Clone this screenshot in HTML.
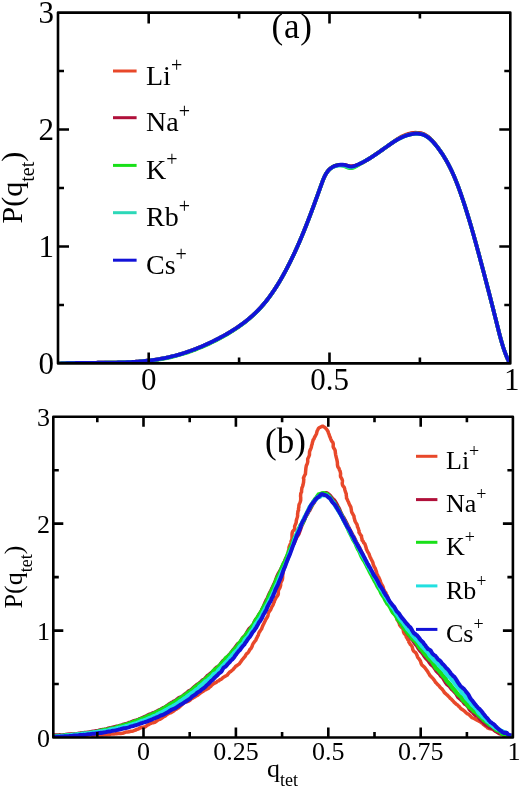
<!DOCTYPE html>
<html><head><meta charset="utf-8"><style>
html,body{margin:0;padding:0;background:#fff;}
body{width:520px;height:790px;overflow:hidden;}
svg{display:block;}

</style></head><body>
<div id="w"><svg width="520" height="790" viewBox="0 0 520 790">
<defs><clipPath id="ca"><rect x="58.0" y="12.6" width="452.3" height="350.8"/></clipPath>
<clipPath id="cb"><rect x="53.3" y="416.7" width="459.6" height="320.8"/></clipPath></defs>
<g fill="none" stroke-linecap="butt" stroke-linejoin="round">
<g clip-path="url(#ca)">
<!-- panel A curves -->
<path d="M58.08,363.72 L59.87,363.61 L61.65,363.51 L63.44,363.42 L65.24,363.34 L67.04,363.27 L68.83,363.20 L70.64,363.14 L72.44,363.09 L74.25,363.04 L76.06,363.00 L77.87,362.96 L79.69,362.93 L81.51,362.90 L83.33,362.88 L85.15,362.86 L86.97,362.84 L88.79,362.83 L90.62,362.81 L92.44,362.80 L94.27,362.79 L96.10,362.78 L97.93,362.77 L99.76,362.76 L101.59,362.74 L103.42,362.73 L105.26,362.72 L107.09,362.70 L108.92,362.68 L110.75,362.65 L112.58,362.62 L114.42,362.59 L116.25,362.55 L118.08,362.51 L119.91,362.46 L121.74,362.41 L123.57,362.35 L125.40,362.28 L127.22,362.20 L129.05,362.12 L130.87,362.03 L132.69,361.92 L134.51,361.81 L136.33,361.69 L138.15,361.56 L139.97,361.42 L141.78,361.26 L143.59,361.09 L145.40,360.92 L147.20,360.72 L149.01,360.52 L150.81,360.30 L152.60,360.07 L154.40,359.82 L156.19,359.55 L157.98,359.27 L159.76,358.98 L161.54,358.67 L163.32,358.34 L165.09,357.99 L166.86,357.63 L168.62,357.24 L170.38,356.84 L172.14,356.42 L173.89,355.98 L175.64,355.52 L177.38,355.04 L179.12,354.55 L180.86,354.04 L182.59,353.51 L184.31,352.96 L186.03,352.40 L187.75,351.82 L189.46,351.23 L191.17,350.61 L192.87,349.99 L194.57,349.35 L196.26,348.69 L197.95,348.02 L199.63,347.33 L201.31,346.63 L202.98,345.91 L204.65,345.18 L206.31,344.44 L207.97,343.68 L209.62,342.92 L211.27,342.13 L212.91,341.34 L214.55,340.53 L216.18,339.71 L217.81,338.88 L219.43,338.04 L221.04,337.18 L222.65,336.31 L224.24,335.43 L225.83,334.53 L227.42,333.62 L228.99,332.69 L230.55,331.75 L232.10,330.80 L233.64,329.83 L235.17,328.84 L236.69,327.84 L238.19,326.82 L239.68,325.79 L241.16,324.73 L242.63,323.67 L244.08,322.58 L245.51,321.48 L246.93,320.35 L248.34,319.21 L249.72,318.05 L251.09,316.88 L252.45,315.68 L253.78,314.46 L255.10,313.23 L256.40,311.97 L257.67,310.69 L258.93,309.39 L260.17,308.08 L261.39,306.74 L262.59,305.38 L263.77,304.01 L264.93,302.61 L266.07,301.20 L267.20,299.78 L268.31,298.34 L269.40,296.88 L270.48,295.41 L271.54,293.92 L272.58,292.43 L273.61,290.92 L274.62,289.39 L275.62,287.86 L276.60,286.32 L277.57,284.77 L278.53,283.21 L279.47,281.64 L280.40,280.06 L281.32,278.48 L282.23,276.89 L283.12,275.29 L284.01,273.69 L284.88,272.09 L285.74,270.48 L286.60,268.87 L287.44,267.26 L288.27,265.64 L289.09,264.03 L289.91,262.41 L290.71,260.78 L291.51,259.16 L292.30,257.53 L293.08,255.90 L293.85,254.27 L294.61,252.63 L295.37,250.99 L296.12,249.35 L296.86,247.71 L297.59,246.06 L298.32,244.41 L299.04,242.76 L299.76,241.11 L300.46,239.45 L301.17,237.79 L301.86,236.13 L302.56,234.46 L303.24,232.79 L303.92,231.12 L304.60,229.45 L305.27,227.77 L305.94,226.09 L306.61,224.41 L307.27,222.72 L307.92,221.03 L308.57,219.34 L309.22,217.64 L309.87,215.95 L310.52,214.25 L311.16,212.54 L311.80,210.83 L312.43,209.12 L313.07,207.41 L313.70,205.70 L314.33,203.98 L314.96,202.25 L315.59,200.53 L316.22,198.80 L316.85,197.07 L317.48,195.33 L318.11,193.59 L318.73,191.85 L319.36,190.11 L319.99,188.36 L320.62,186.61 L321.25,184.85 L321.88,183.10 L322.53,181.35 L323.20,179.63 L323.91,177.93 L324.66,176.29 L325.48,174.70 L326.37,173.19 L327.34,171.77 L328.41,170.44 L329.59,169.22 L330.90,168.12 L332.33,167.16 L333.91,166.35 L335.62,165.70 L337.44,165.22 L339.31,164.91 L341.22,164.78 L343.11,164.84 L344.96,165.09 L346.73,165.53 L348.44,166.02 L350.12,166.39 L351.81,166.47 L353.52,166.23 L355.22,165.74 L356.92,165.10 L358.60,164.39 L360.26,163.63 L361.89,162.82 L363.50,161.97 L365.10,161.08 L366.68,160.16 L368.24,159.21 L369.80,158.23 L371.34,157.24 L372.87,156.24 L374.39,155.22 L375.91,154.20 L377.42,153.17 L378.93,152.15 L380.43,151.12 L381.92,150.09 L383.41,149.05 L384.90,148.01 L386.38,146.96 L387.85,145.91 L389.31,144.86 L390.77,143.80 L392.23,142.73 L393.68,141.67 L395.14,140.62 L396.62,139.60 L398.12,138.61 L399.65,137.66 L401.22,136.77 L402.84,135.94 L404.51,135.19 L406.24,134.52 L408.03,133.94 L409.87,133.47 L411.74,133.11 L413.62,132.87 L415.50,132.77 L417.36,132.80 L419.18,132.99 L420.95,133.34 L422.64,133.85 L424.25,134.54 L425.79,135.37 L427.27,136.33 L428.68,137.41 L430.03,138.59 L431.33,139.85 L432.59,141.18 L433.81,142.56 L434.99,143.98 L436.15,145.41 L437.27,146.86 L438.37,148.32 L439.44,149.80 L440.49,151.30 L441.51,152.81 L442.51,154.33 L443.48,155.86 L444.43,157.41 L445.36,158.97 L446.27,160.54 L447.15,162.13 L448.02,163.72 L448.86,165.33 L449.69,166.94 L450.49,168.57 L451.28,170.21 L452.05,171.85 L452.81,173.50 L453.55,175.16 L454.27,176.83 L454.98,178.51 L455.67,180.19 L456.35,181.88 L457.02,183.57 L457.68,185.27 L458.33,186.97 L458.96,188.68 L459.58,190.40 L460.20,192.11 L460.81,193.83 L461.40,195.56 L461.99,197.28 L462.58,199.01 L463.15,200.74 L463.73,202.47 L464.29,204.20 L464.85,205.93 L465.41,207.67 L465.96,209.40 L466.51,211.14 L467.05,212.87 L467.59,214.61 L468.12,216.35 L468.65,218.09 L469.17,219.83 L469.69,221.57 L470.21,223.31 L470.72,225.05 L471.23,226.80 L471.74,228.54 L472.24,230.29 L472.74,232.03 L473.23,233.78 L473.73,235.52 L474.22,237.27 L474.70,239.02 L475.19,240.77 L475.67,242.52 L476.15,244.27 L476.63,246.02 L477.11,247.77 L477.59,249.52 L478.06,251.28 L478.53,253.03 L479.00,254.78 L479.47,256.54 L479.94,258.29 L480.41,260.05 L480.87,261.80 L481.34,263.56 L481.80,265.31 L482.27,267.07 L482.73,268.83 L483.20,270.58 L483.66,272.34 L484.12,274.10 L484.59,275.86 L485.05,277.61 L485.51,279.37 L485.97,281.13 L486.43,282.89 L486.89,284.65 L487.35,286.41 L487.81,288.17 L488.26,289.93 L488.72,291.69 L489.18,293.46 L489.63,295.22 L490.09,296.98 L490.54,298.74 L490.99,300.50 L491.44,302.27 L491.90,304.03 L492.35,305.79 L492.80,307.56 L493.24,309.32 L493.69,311.09 L494.14,312.85 L494.58,314.62 L495.03,316.38 L495.47,318.15 L495.91,319.91 L496.36,321.68 L496.80,323.45 L497.24,325.21 L497.67,326.98 L498.11,328.75 L498.55,330.51 L498.99,332.28 L499.44,334.04 L499.90,335.80 L500.36,337.56 L500.84,339.31 L501.33,341.06 L501.83,342.81 L502.35,344.54 L502.88,346.28 L503.44,348.00 L504.02,349.72 L504.62,351.42 L505.25,353.12 L505.90,354.81 L506.58,356.49 L507.30,358.16 L508.04,359.81 L508.82,361.46 L509.64,363.09" stroke="#e8482a" stroke-width="3.8"/>
<path d="M58.08,363.72 L59.87,363.61 L61.65,363.51 L63.44,363.42 L65.24,363.34 L67.03,363.27 L68.83,363.20 L70.63,363.14 L72.44,363.09 L74.25,363.04 L76.06,363.00 L77.87,362.96 L79.68,362.93 L81.50,362.90 L83.32,362.88 L85.14,362.86 L86.96,362.84 L88.78,362.83 L90.61,362.81 L92.44,362.80 L94.26,362.79 L96.09,362.78 L97.92,362.77 L99.75,362.76 L101.58,362.74 L103.41,362.73 L105.24,362.72 L107.08,362.70 L108.91,362.68 L110.74,362.65 L112.57,362.62 L114.40,362.59 L116.23,362.55 L118.06,362.51 L119.89,362.46 L121.72,362.41 L123.55,362.35 L125.38,362.28 L127.21,362.20 L129.03,362.12 L130.85,362.03 L132.68,361.93 L134.50,361.81 L136.32,361.69 L138.13,361.56 L139.95,361.42 L141.76,361.26 L143.57,361.10 L145.38,360.92 L147.18,360.73 L148.98,360.52 L150.78,360.30 L152.58,360.07 L154.37,359.82 L156.16,359.56 L157.95,359.28 L159.74,358.98 L161.52,358.67 L163.29,358.34 L165.06,358.00 L166.83,357.63 L168.60,357.25 L170.36,356.84 L172.11,356.42 L173.87,355.98 L175.61,355.53 L177.36,355.05 L179.09,354.56 L180.83,354.05 L182.56,353.52 L184.28,352.97 L186.00,352.41 L187.72,351.83 L189.43,351.24 L191.14,350.63 L192.84,350.00 L194.54,349.36 L196.23,348.70 L197.92,348.03 L199.60,347.34 L201.28,346.64 L202.95,345.93 L204.62,345.20 L206.28,344.46 L207.94,343.70 L209.59,342.93 L211.24,342.15 L212.88,341.36 L214.52,340.55 L216.15,339.73 L217.77,338.90 L219.39,338.06 L221.01,337.20 L222.61,336.33 L224.21,335.45 L225.80,334.55 L227.38,333.64 L228.95,332.72 L230.51,331.78 L232.06,330.82 L233.60,329.85 L235.13,328.87 L236.65,327.86 L238.15,326.85 L239.65,325.81 L241.12,324.76 L242.59,323.69 L244.04,322.61 L245.48,321.50 L246.90,320.38 L248.30,319.24 L249.69,318.09 L251.06,316.91 L252.41,315.71 L253.75,314.50 L255.06,313.26 L256.36,312.00 L257.64,310.73 L258.90,309.43 L260.13,308.11 L261.35,306.78 L262.55,305.42 L263.73,304.05 L264.90,302.66 L266.04,301.25 L267.17,299.82 L268.28,298.38 L269.37,296.92 L270.44,295.45 L271.50,293.97 L272.55,292.47 L273.58,290.96 L274.59,289.44 L275.59,287.91 L276.57,286.37 L277.54,284.82 L278.50,283.26 L279.44,281.69 L280.37,280.11 L281.29,278.53 L282.20,276.94 L283.09,275.35 L283.98,273.75 L284.85,272.14 L285.71,270.54 L286.57,268.93 L287.41,267.32 L288.24,265.70 L289.06,264.08 L289.88,262.46 L290.68,260.84 L291.48,259.22 L292.27,257.59 L293.05,255.96 L293.82,254.33 L294.58,252.69 L295.34,251.05 L296.09,249.41 L296.83,247.77 L297.56,246.12 L298.29,244.48 L299.01,242.82 L299.73,241.17 L300.44,239.51 L301.14,237.85 L301.84,236.19 L302.53,234.53 L303.22,232.86 L303.90,231.19 L304.57,229.51 L305.25,227.84 L305.91,226.16 L306.58,224.47 L307.24,222.79 L307.89,221.10 L308.55,219.41 L309.20,217.72 L309.84,216.02 L310.49,214.32 L311.13,212.61 L311.77,210.91 L312.40,209.20 L313.04,207.49 L313.67,205.77 L314.30,204.05 L314.94,202.33 L315.56,200.61 L316.19,198.88 L316.82,197.15 L317.45,195.41 L318.08,193.67 L318.70,191.93 L319.33,190.19 L319.96,188.44 L320.59,186.69 L321.22,184.94 L321.85,183.18 L322.50,181.43 L323.17,179.71 L323.87,178.01 L324.63,176.37 L325.44,174.78 L326.32,173.26 L327.29,171.83 L328.36,170.50 L329.53,169.27 L330.83,168.17 L332.26,167.21 L333.83,166.39 L335.53,165.73 L337.34,165.24 L339.22,164.92 L341.12,164.78 L343.01,164.83 L344.86,165.08 L346.64,165.51 L348.35,166.00 L350.03,166.38 L351.72,166.48 L353.43,166.25 L355.14,165.77 L356.84,165.13 L358.51,164.42 L360.17,163.66 L361.80,162.86 L363.42,162.01 L365.01,161.13 L366.59,160.21 L368.16,159.27 L369.71,158.30 L371.25,157.31 L372.78,156.31 L374.31,155.29 L375.82,154.27 L377.34,153.24 L378.84,152.20 L380.35,151.16 L381.85,150.12 L383.34,149.08 L384.83,148.04 L386.32,147.00 L387.80,145.97 L389.27,144.93 L390.74,143.90 L392.21,142.88 L393.68,141.87 L395.16,140.88 L396.66,139.91 L398.18,138.97 L399.73,138.08 L401.32,137.22 L402.95,136.42 L404.64,135.68 L406.38,135.00 L408.19,134.40 L410.04,133.88 L411.91,133.46 L413.80,133.16 L415.68,132.99 L417.54,132.96 L419.36,133.08 L421.12,133.37 L422.80,133.85 L424.40,134.50 L425.94,135.32 L427.40,136.27 L428.80,137.35 L430.15,138.53 L431.44,139.80 L432.69,141.14 L433.90,142.53 L435.08,143.96 L436.23,145.40 L437.35,146.86 L438.45,148.33 L439.51,149.81 L440.56,151.32 L441.57,152.83 L442.57,154.36 L443.54,155.90 L444.48,157.45 L445.41,159.01 L446.31,160.59 L447.19,162.18 L448.05,163.77 L448.90,165.38 L449.72,167.00 L450.52,168.62 L451.31,170.26 L452.08,171.90 L452.83,173.56 L453.57,175.22 L454.29,176.89 L455.00,178.56 L455.69,180.24 L456.37,181.93 L457.04,183.62 L457.70,185.32 L458.34,187.02 L458.97,188.73 L459.60,190.44 L460.21,192.16 L460.82,193.88 L461.41,195.60 L462.00,197.32 L462.59,199.05 L463.16,200.78 L463.74,202.51 L464.30,204.24 L464.86,205.97 L465.42,207.70 L465.97,209.43 L466.52,211.17 L467.06,212.90 L467.59,214.64 L468.13,216.38 L468.65,218.12 L469.18,219.86 L469.70,221.60 L470.22,223.34 L470.73,225.08 L471.24,226.82 L471.74,228.57 L472.25,230.31 L472.74,232.06 L473.24,233.80 L473.73,235.55 L474.22,237.30 L474.71,239.05 L475.20,240.80 L475.68,242.55 L476.16,244.30 L476.64,246.05 L477.12,247.80 L477.59,249.55 L478.07,251.30 L478.54,253.06 L479.01,254.81 L479.48,256.57 L479.95,258.32 L480.41,260.07 L480.88,261.83 L481.35,263.58 L481.81,265.34 L482.28,267.10 L482.74,268.85 L483.20,270.61 L483.67,272.37 L484.13,274.12 L484.59,275.88 L485.05,277.64 L485.52,279.40 L485.98,281.16 L486.44,282.91 L486.90,284.67 L487.35,286.43 L487.81,288.19 L488.27,289.95 L488.73,291.71 L489.18,293.47 L489.64,295.23 L490.09,297.00 L490.54,298.76 L491.00,300.52 L491.45,302.28 L491.90,304.04 L492.35,305.81 L492.80,307.57 L493.25,309.33 L493.69,311.10 L494.14,312.86 L494.59,314.63 L495.03,316.39 L495.47,318.16 L495.92,319.92 L496.36,321.69 L496.80,323.45 L497.24,325.22 L497.67,326.99 L498.11,328.75 L498.55,330.52 L499.00,332.29 L499.44,334.05 L499.90,335.81 L500.36,337.57 L500.84,339.32 L501.33,341.07 L501.83,342.81 L502.35,344.55 L502.88,346.28 L503.44,348.00 L504.02,349.72 L504.62,351.43 L505.25,353.13 L505.90,354.82 L506.58,356.49 L507.30,358.16 L508.04,359.82 L508.83,361.46 L509.64,363.09" stroke="#b0103a" stroke-width="3.8"/>
<path d="M58.09,363.74 L59.87,363.62 L61.66,363.52 L63.45,363.42 L65.24,363.34 L67.04,363.26 L68.84,363.19 L70.64,363.12 L72.45,363.07 L74.26,363.02 L76.07,362.98 L77.88,362.94 L79.70,362.91 L81.52,362.89 L83.34,362.87 L85.16,362.85 L86.98,362.83 L88.81,362.82 L90.63,362.81 L92.46,362.81 L94.29,362.80 L96.12,362.80 L97.95,362.79 L99.78,362.79 L101.62,362.78 L103.45,362.78 L105.28,362.77 L107.12,362.76 L108.95,362.75 L110.79,362.73 L112.62,362.71 L114.46,362.69 L116.29,362.66 L118.12,362.63 L119.95,362.59 L121.79,362.55 L123.62,362.50 L125.45,362.44 L127.28,362.37 L129.10,362.30 L130.93,362.22 L132.75,362.13 L134.58,362.03 L136.40,361.92 L138.22,361.80 L140.04,361.66 L141.85,361.52 L143.66,361.37 L145.47,361.20 L147.28,361.02 L149.09,360.82 L150.89,360.62 L152.69,360.39 L154.49,360.16 L156.28,359.90 L158.07,359.64 L159.86,359.35 L161.64,359.05 L163.42,358.73 L165.19,358.39 L166.96,358.04 L168.73,357.66 L170.50,357.27 L172.25,356.86 L174.01,356.43 L175.76,355.98 L177.50,355.51 L179.25,355.02 L180.98,354.52 L182.71,354.00 L184.44,353.46 L186.17,352.90 L187.88,352.33 L189.60,351.74 L191.31,351.13 L193.01,350.51 L194.71,349.87 L196.40,349.21 L198.09,348.54 L199.77,347.86 L201.45,347.16 L203.13,346.44 L204.79,345.71 L206.46,344.97 L208.12,344.21 L209.77,343.44 L211.41,342.65 L213.06,341.85 L214.69,341.04 L216.32,340.22 L217.95,339.38 L219.56,338.53 L221.17,337.66 L222.78,336.78 L224.37,335.89 L225.96,334.98 L227.54,334.06 L229.10,333.12 L230.66,332.17 L232.21,331.20 L233.74,330.22 L235.27,329.22 L236.78,328.21 L238.28,327.18 L239.77,326.13 L241.24,325.06 L242.70,323.98 L244.15,322.88 L245.58,321.77 L246.99,320.63 L248.39,319.48 L249.77,318.31 L251.14,317.12 L252.48,315.92 L253.81,314.69 L255.13,313.45 L256.42,312.18 L257.69,310.90 L258.94,309.59 L260.18,308.27 L261.39,306.93 L262.59,305.57 L263.76,304.19 L264.92,302.79 L266.06,301.38 L267.18,299.95 L268.29,298.51 L269.37,297.05 L270.45,295.58 L271.50,294.10 L272.54,292.60 L273.57,291.09 L274.58,289.57 L275.57,288.04 L276.56,286.50 L277.52,284.95 L278.48,283.39 L279.42,281.82 L280.35,280.25 L281.27,278.66 L282.17,277.08 L283.07,275.48 L283.95,273.88 L284.82,272.28 L285.68,270.67 L286.54,269.06 L287.38,267.44 L288.21,265.83 L289.04,264.21 L289.85,262.58 L290.66,260.96 L291.46,259.33 L292.25,257.70 L293.03,256.06 L293.80,254.42 L294.57,252.78 L295.33,251.14 L296.08,249.49 L296.82,247.84 L297.56,246.19 L298.29,244.54 L299.01,242.88 L299.73,241.22 L300.44,239.56 L301.15,237.89 L301.85,236.23 L302.54,234.56 L303.23,232.88 L303.91,231.21 L304.59,229.53 L305.26,227.85 L305.93,226.16 L306.60,224.48 L307.26,222.79 L307.92,221.10 L308.57,219.40 L309.22,217.71 L309.87,216.01 L310.51,214.31 L311.15,212.60 L311.79,210.90 L312.43,209.19 L313.06,207.48 L313.69,205.76 L314.32,204.05 L314.95,202.33 L315.57,200.61 L316.20,198.89 L316.82,197.16 L317.44,195.43 L318.07,193.70 L318.69,191.97 L319.31,190.24 L319.93,188.50 L320.55,186.76 L321.17,185.02 L321.80,183.28 L322.43,181.54 L323.09,179.83 L323.79,178.14 L324.54,176.50 L325.36,174.91 L326.25,173.39 L327.23,171.95 L328.31,170.59 L329.51,169.33 L330.84,168.18 L332.31,167.15 L333.94,166.26 L335.70,165.54 L337.54,165.05 L339.40,164.87 L341.21,165.06 L342.97,165.56 L344.69,166.25 L346.38,167.00 L348.04,167.67 L349.69,168.11 L351.33,168.18 L352.96,167.82 L354.58,167.13 L356.19,166.26 L357.79,165.32 L359.38,164.38 L360.97,163.46 L362.55,162.53 L364.12,161.61 L365.68,160.69 L367.23,159.76 L368.78,158.83 L370.32,157.88 L371.86,156.92 L373.39,155.95 L374.91,154.96 L376.43,153.94 L377.94,152.91 L379.45,151.86 L380.95,150.80 L382.45,149.73 L383.94,148.66 L385.44,147.59 L386.92,146.53 L388.41,145.47 L389.89,144.44 L391.37,143.42 L392.85,142.42 L394.34,141.45 L395.84,140.52 L397.36,139.62 L398.91,138.76 L400.50,137.95 L402.13,137.18 L403.81,136.47 L405.54,135.82 L407.34,135.23 L409.19,134.72 L411.08,134.29 L412.99,133.97 L414.89,133.76 L416.78,133.68 L418.64,133.75 L420.44,133.98 L422.18,134.38 L423.83,134.95 L425.41,135.70 L426.92,136.58 L428.36,137.60 L429.75,138.72 L431.08,139.94 L432.36,141.23 L433.60,142.58 L434.81,143.96 L435.98,145.37 L437.12,146.80 L438.24,148.25 L439.32,149.71 L440.38,151.19 L441.42,152.68 L442.43,154.19 L443.41,155.72 L444.37,157.26 L445.31,158.81 L446.22,160.38 L447.11,161.96 L447.98,163.55 L448.83,165.15 L449.66,166.77 L450.47,168.39 L451.26,170.03 L452.03,171.68 L452.79,173.33 L453.53,174.99 L454.25,176.67 L454.96,178.35 L455.65,180.03 L456.33,181.73 L457.00,183.43 L457.66,185.13 L458.30,186.84 L458.93,188.56 L459.55,190.28 L460.17,192.00 L460.77,193.73 L461.37,195.46 L461.96,197.19 L462.54,198.92 L463.11,200.65 L463.68,202.39 L464.25,204.12 L464.81,205.86 L465.37,207.60 L465.92,209.33 L466.46,211.07 L467.00,212.81 L467.54,214.55 L468.07,216.29 L468.60,218.03 L469.13,219.77 L469.65,221.51 L470.17,223.25 L470.68,224.99 L471.19,226.74 L471.70,228.48 L472.20,230.22 L472.70,231.97 L473.20,233.71 L473.69,235.46 L474.19,237.21 L474.68,238.95 L475.16,240.70 L475.65,242.45 L476.13,244.20 L476.61,245.95 L477.09,247.70 L477.57,249.45 L478.04,251.20 L478.52,252.95 L478.99,254.70 L479.46,256.46 L479.93,258.21 L480.40,259.97 L480.86,261.72 L481.33,263.48 L481.80,265.23 L482.26,266.99 L482.73,268.75 L483.19,270.51 L483.66,272.26 L484.12,274.02 L484.58,275.78 L485.04,277.54 L485.50,279.30 L485.96,281.07 L486.42,282.83 L486.88,284.59 L487.34,286.35 L487.80,288.11 L488.26,289.88 L488.71,291.64 L489.17,293.41 L489.62,295.17 L490.08,296.94 L490.53,298.70 L490.98,300.47 L491.43,302.23 L491.88,304.00 L492.33,305.76 L492.78,307.53 L493.23,309.30 L493.68,311.06 L494.12,312.83 L494.57,314.60 L495.01,316.36 L495.46,318.13 L495.90,319.90 L496.34,321.67 L496.78,323.43 L497.22,325.20 L497.66,326.97 L498.10,328.73 L498.54,330.50 L498.99,332.27 L499.43,334.03 L499.89,335.79 L500.36,337.55 L500.83,339.30 L501.32,341.05 L501.83,342.79 L502.35,344.53 L502.88,346.26 L503.44,347.98 L504.02,349.70 L504.62,351.41 L505.25,353.11 L505.90,354.80 L506.58,356.48 L507.30,358.15 L508.04,359.81 L508.82,361.46 L509.64,363.09" stroke="#18e018" stroke-width="3.8"/>
<path d="M58.08,363.72 L59.86,363.61 L61.65,363.51 L63.44,363.42 L65.23,363.34 L67.02,363.27 L68.82,363.20 L70.62,363.14 L72.42,363.09 L74.23,363.04 L76.03,363.00 L77.84,362.96 L79.66,362.93 L81.47,362.90 L83.29,362.88 L85.10,362.86 L86.92,362.84 L88.75,362.83 L90.57,362.81 L92.39,362.80 L94.22,362.79 L96.04,362.78 L97.87,362.77 L99.70,362.76 L101.53,362.75 L103.36,362.73 L105.18,362.72 L107.01,362.70 L108.84,362.68 L110.67,362.65 L112.50,362.63 L114.33,362.59 L116.16,362.56 L117.99,362.51 L119.82,362.47 L121.64,362.41 L123.47,362.35 L125.30,362.28 L127.12,362.21 L128.94,362.12 L130.76,362.03 L132.58,361.93 L134.40,361.82 L136.22,361.70 L138.03,361.57 L139.85,361.43 L141.66,361.27 L143.46,361.11 L145.27,360.93 L147.07,360.74 L148.87,360.53 L150.67,360.32 L152.47,360.08 L154.26,359.84 L156.05,359.58 L157.83,359.30 L159.61,359.00 L161.39,358.69 L163.17,358.37 L164.94,358.02 L166.70,357.66 L168.46,357.28 L170.22,356.88 L171.98,356.46 L173.73,356.02 L175.47,355.56 L177.21,355.09 L178.95,354.60 L180.68,354.09 L182.41,353.56 L184.13,353.02 L185.85,352.46 L187.57,351.88 L189.28,351.29 L190.98,350.68 L192.68,350.06 L194.38,349.42 L196.07,348.76 L197.75,348.09 L199.43,347.41 L201.11,346.71 L202.78,346.00 L204.45,345.27 L206.11,344.53 L207.76,343.78 L209.41,343.01 L211.06,342.23 L212.70,341.44 L214.34,340.64 L215.97,339.82 L217.59,338.99 L219.21,338.15 L220.82,337.30 L222.43,336.43 L224.02,335.55 L225.61,334.66 L227.19,333.75 L228.76,332.83 L230.32,331.89 L231.87,330.94 L233.41,329.97 L234.94,328.99 L236.46,327.99 L237.97,326.98 L239.46,325.95 L240.94,324.90 L242.40,323.84 L243.85,322.75 L245.29,321.65 L246.71,320.54 L248.11,319.40 L249.50,318.25 L250.87,317.07 L252.23,315.88 L253.56,314.67 L254.88,313.44 L256.18,312.19 L257.46,310.92 L258.72,309.62 L259.96,308.31 L261.18,306.98 L262.38,305.63 L263.56,304.26 L264.72,302.87 L265.87,301.46 L266.99,300.04 L268.10,298.61 L269.20,297.15 L270.27,295.69 L271.33,294.21 L272.38,292.71 L273.41,291.21 L274.42,289.69 L275.42,288.16 L276.41,286.62 L277.38,285.08 L278.33,283.52 L279.28,281.95 L280.21,280.38 L281.13,278.80 L282.04,277.22 L282.93,275.62 L283.82,274.03 L284.69,272.43 L285.55,270.82 L286.41,269.22 L287.25,267.61 L288.08,265.99 L288.91,264.38 L289.72,262.76 L290.53,261.14 L291.33,259.52 L292.12,257.90 L292.90,256.27 L293.67,254.64 L294.44,253.01 L295.19,251.37 L295.94,249.73 L296.69,248.09 L297.42,246.45 L298.15,244.81 L298.87,243.16 L299.59,241.51 L300.30,239.85 L301.00,238.19 L301.70,236.53 L302.39,234.87 L303.08,233.21 L303.76,231.54 L304.44,229.87 L305.11,228.19 L305.78,226.52 L306.45,224.84 L307.11,223.15 L307.76,221.47 L308.42,219.78 L309.07,218.09 L309.71,216.39 L310.36,214.69 L311.00,212.99 L311.63,211.29 L312.27,209.58 L312.90,207.87 L313.54,206.16 L314.17,204.44 L314.80,202.72 L315.42,201.00 L316.05,199.27 L316.68,197.54 L317.30,195.81 L317.93,194.07 L318.55,192.33 L319.18,190.59 L319.80,188.84 L320.43,187.09 L321.06,185.34 L321.68,183.59 L322.32,181.84 L322.98,180.11 L323.68,178.41 L324.42,176.76 L325.22,175.17 L326.09,173.65 L327.05,172.22 L328.11,170.89 L329.28,169.68 L330.57,168.60 L331.99,167.66 L333.57,166.88 L335.29,166.26 L337.12,165.82 L339.02,165.56 L340.94,165.48 L342.86,165.59 L344.72,165.89 L346.48,166.39 L348.18,166.93 L349.83,167.33 L351.49,167.39 L353.18,167.02 L354.87,166.35 L356.56,165.52 L358.23,164.64 L359.88,163.77 L361.50,162.90 L363.10,162.04 L364.69,161.16 L366.26,160.29 L367.81,159.40 L369.35,158.49 L370.88,157.58 L372.40,156.64 L373.92,155.67 L375.43,154.68 L376.94,153.66 L378.45,152.62 L379.95,151.56 L381.45,150.48 L382.95,149.40 L384.44,148.31 L385.93,147.23 L387.42,146.16 L388.91,145.10 L390.39,144.06 L391.86,143.05 L393.34,142.06 L394.83,141.11 L396.33,140.19 L397.86,139.32 L399.41,138.48 L401.00,137.70 L402.64,136.96 L404.33,136.28 L406.08,135.65 L407.90,135.09 L409.76,134.60 L411.65,134.20 L413.55,133.91 L415.46,133.73 L417.34,133.69 L419.18,133.80 L420.96,134.07 L422.67,134.52 L424.30,135.14 L425.85,135.92 L427.34,136.85 L428.76,137.89 L430.13,139.04 L431.44,140.28 L432.71,141.59 L433.93,142.95 L435.13,144.34 L436.29,145.75 L437.42,147.18 L438.53,148.63 L439.60,150.10 L440.65,151.58 L441.68,153.07 L442.68,154.59 L443.65,156.11 L444.61,157.65 L445.53,159.21 L446.44,160.77 L447.32,162.35 L448.19,163.94 L449.03,165.55 L449.85,167.16 L450.65,168.78 L451.44,170.42 L452.21,172.06 L452.96,173.72 L453.69,175.38 L454.41,177.05 L455.11,178.73 L455.80,180.41 L456.48,182.10 L457.14,183.80 L457.80,185.50 L458.44,187.21 L459.06,188.92 L459.68,190.64 L460.29,192.36 L460.89,194.08 L461.49,195.81 L462.07,197.53 L462.65,199.26 L463.23,200.99 L463.79,202.72 L464.36,204.45 L464.92,206.19 L465.47,207.92 L466.02,209.65 L466.56,211.39 L467.10,213.12 L467.64,214.86 L468.17,216.59 L468.70,218.33 L469.22,220.07 L469.74,221.80 L470.25,223.54 L470.77,225.28 L471.28,227.02 L471.78,228.76 L472.28,230.50 L472.78,232.24 L473.28,233.98 L473.77,235.73 L474.26,237.47 L474.75,239.21 L475.24,240.96 L475.72,242.70 L476.20,244.45 L476.68,246.19 L477.16,247.94 L477.63,249.69 L478.11,251.44 L478.58,253.19 L479.05,254.93 L479.52,256.68 L479.99,258.43 L480.45,260.19 L480.92,261.94 L481.39,263.69 L481.85,265.44 L482.32,267.20 L482.78,268.95 L483.24,270.70 L483.71,272.46 L484.17,274.21 L484.63,275.97 L485.09,277.73 L485.55,279.48 L486.01,281.24 L486.47,283.00 L486.93,284.76 L487.38,286.52 L487.84,288.28 L488.30,290.03 L488.75,291.79 L489.21,293.56 L489.66,295.32 L490.11,297.08 L490.56,298.84 L491.02,300.60 L491.47,302.36 L491.92,304.12 L492.36,305.89 L492.81,307.65 L493.26,309.41 L493.71,311.17 L494.15,312.94 L494.60,314.70 L495.04,316.46 L495.48,318.23 L495.92,319.99 L496.36,321.75 L496.80,323.52 L497.24,325.28 L497.68,327.04 L498.12,328.81 L498.56,330.57 L499.00,332.33 L499.45,334.09 L499.91,335.85 L500.37,337.60 L500.85,339.35 L501.34,341.09 L501.84,342.83 L502.36,344.57 L502.89,346.30 L503.45,348.02 L504.03,349.73 L504.63,351.43 L505.26,353.13 L505.91,354.82 L506.59,356.49 L507.30,358.16 L508.05,359.82 L508.83,361.46 L509.64,363.09" stroke="#2cd8b8" stroke-width="3.8"/>
<path d="M58.08,363.72 L59.86,363.61 L61.65,363.51 L63.44,363.42 L65.23,363.34 L67.02,363.27 L68.82,363.20 L70.62,363.14 L72.42,363.09 L74.23,363.04 L76.04,363.00 L77.85,362.96 L79.66,362.93 L81.47,362.90 L83.29,362.88 L85.11,362.86 L86.93,362.84 L88.75,362.83 L90.57,362.81 L92.40,362.80 L94.22,362.79 L96.05,362.78 L97.87,362.77 L99.70,362.76 L101.53,362.75 L103.36,362.73 L105.19,362.72 L107.02,362.70 L108.85,362.68 L110.68,362.65 L112.51,362.63 L114.34,362.59 L116.17,362.56 L118.00,362.51 L119.82,362.47 L121.65,362.41 L123.48,362.35 L125.30,362.28 L127.13,362.21 L128.95,362.12 L130.77,362.03 L132.59,361.93 L134.41,361.82 L136.23,361.70 L138.04,361.57 L139.85,361.42 L141.67,361.27 L143.47,361.10 L145.28,360.93 L147.08,360.74 L148.88,360.53 L150.68,360.31 L152.48,360.08 L154.27,359.83 L156.06,359.57 L157.84,359.30 L159.62,359.00 L161.40,358.69 L163.18,358.36 L164.95,358.02 L166.71,357.66 L168.48,357.27 L170.24,356.87 L171.99,356.45 L173.74,356.02 L175.49,355.56 L177.23,355.09 L178.96,354.59 L180.70,354.08 L182.42,353.56 L184.15,353.02 L185.87,352.46 L187.58,351.88 L189.29,351.29 L191.00,350.68 L192.70,350.05 L194.39,349.41 L196.08,348.76 L197.77,348.09 L199.45,347.41 L201.13,346.71 L202.80,345.99 L204.46,345.27 L206.12,344.53 L207.78,343.77 L209.43,343.01 L211.08,342.23 L212.72,341.44 L214.35,340.63 L215.98,339.81 L217.61,338.99 L219.23,338.14 L220.84,337.29 L222.44,336.42 L224.04,335.54 L225.63,334.65 L227.21,333.74 L228.78,332.82 L230.34,331.88 L231.89,330.93 L233.43,329.96 L234.96,328.98 L236.48,327.98 L237.98,326.96 L239.47,325.93 L240.95,324.88 L242.42,323.82 L243.87,322.74 L245.30,321.64 L246.72,320.52 L248.13,319.38 L249.52,318.23 L250.89,317.05 L252.24,315.86 L253.58,314.65 L254.89,313.42 L256.19,312.17 L257.47,310.89 L258.73,309.60 L259.97,308.29 L261.19,306.96 L262.39,305.60 L263.57,304.23 L264.74,302.85 L265.88,301.44 L267.01,300.02 L268.12,298.58 L269.21,297.13 L270.29,295.67 L271.35,294.19 L272.39,292.69 L273.42,291.19 L274.44,289.67 L275.44,288.14 L276.42,286.61 L277.39,285.06 L278.35,283.50 L279.30,281.94 L280.23,280.36 L281.15,278.78 L282.06,277.20 L282.95,275.61 L283.84,274.01 L284.71,272.41 L285.57,270.80 L286.43,269.20 L287.27,267.59 L288.10,265.97 L288.93,264.36 L289.74,262.74 L290.55,261.12 L291.34,259.50 L292.13,257.87 L292.91,256.24 L293.69,254.61 L294.45,252.98 L295.21,251.34 L295.96,249.70 L296.70,248.06 L297.43,246.42 L298.16,244.77 L298.88,243.12 L299.60,241.47 L300.31,239.81 L301.01,238.15 L301.71,236.49 L302.40,234.83 L303.09,233.16 L303.77,231.50 L304.45,229.82 L305.12,228.15 L305.79,226.47 L306.45,224.79 L307.11,223.11 L307.77,221.42 L308.42,219.73 L309.07,218.04 L309.72,216.35 L310.36,214.65 L311.00,212.95 L311.64,211.24 L312.28,209.54 L312.91,207.83 L313.55,206.12 L314.18,204.40 L314.81,202.68 L315.43,200.96 L316.06,199.24 L316.69,197.51 L317.32,195.78 L317.94,194.05 L318.57,192.31 L319.20,190.57 L319.82,188.83 L320.45,187.08 L321.08,185.33 L321.71,183.58 L322.35,181.84 L323.01,180.11 L323.70,178.41 L324.44,176.76 L325.24,175.16 L326.11,173.63 L327.06,172.17 L328.10,170.82 L329.25,169.56 L330.51,168.43 L331.91,167.42 L333.45,166.56 L335.13,165.85 L336.92,165.31 L338.78,164.94 L340.68,164.75 L342.58,164.76 L344.43,164.97 L346.22,165.40 L347.93,165.92 L349.61,166.37 L351.29,166.57 L352.99,166.39 L354.70,165.93 L356.41,165.28 L358.10,164.56 L359.76,163.79 L361.40,163.00 L363.02,162.17 L364.62,161.30 L366.20,160.42 L367.77,159.50 L369.32,158.56 L370.86,157.60 L372.39,156.61 L373.91,155.61 L375.42,154.59 L376.93,153.56 L378.44,152.52 L379.94,151.46 L381.44,150.41 L382.93,149.35 L384.42,148.29 L385.91,147.24 L387.39,146.19 L388.87,145.15 L390.35,144.13 L391.83,143.13 L393.30,142.15 L394.79,141.19 L396.30,140.26 L397.82,139.37 L399.38,138.52 L400.98,137.72 L402.62,136.97 L404.31,136.27 L406.06,135.63 L407.87,135.06 L409.73,134.57 L411.62,134.18 L413.53,133.89 L415.43,133.72 L417.31,133.68 L419.15,133.79 L420.93,134.07 L422.64,134.52 L424.27,135.14 L425.83,135.93 L427.31,136.85 L428.74,137.89 L430.10,139.04 L431.42,140.27 L432.69,141.58 L433.91,142.93 L435.11,144.32 L436.27,145.74 L437.40,147.17 L438.51,148.61 L439.59,150.08 L440.64,151.55 L441.67,153.05 L442.67,154.56 L443.64,156.09 L444.59,157.63 L445.52,159.18 L446.43,160.74 L447.31,162.32 L448.18,163.91 L449.02,165.52 L449.84,167.13 L450.65,168.76 L451.43,170.39 L452.20,172.04 L452.95,173.69 L453.68,175.35 L454.40,177.02 L455.11,178.70 L455.80,180.38 L456.47,182.08 L457.14,183.77 L457.79,185.48 L458.43,187.19 L459.06,188.90 L459.68,190.62 L460.29,192.34 L460.89,194.06 L461.48,195.79 L462.07,197.52 L462.65,199.25 L463.22,200.98 L463.79,202.71 L464.35,204.44 L464.91,206.17 L465.46,207.91 L466.01,209.64 L466.56,211.37 L467.10,213.11 L467.63,214.84 L468.16,216.58 L468.69,218.32 L469.21,220.05 L469.73,221.79 L470.25,223.53 L470.76,225.27 L471.27,227.01 L471.78,228.75 L472.28,230.49 L472.78,232.23 L473.27,233.97 L473.77,235.71 L474.26,237.46 L474.75,239.20 L475.23,240.95 L475.72,242.69 L476.20,244.44 L476.68,246.18 L477.15,247.93 L477.63,249.68 L478.10,251.42 L478.58,253.17 L479.05,254.92 L479.52,256.67 L479.98,258.42 L480.45,260.17 L480.92,261.92 L481.38,263.68 L481.85,265.43 L482.31,267.18 L482.78,268.94 L483.24,270.69 L483.70,272.45 L484.17,274.20 L484.63,275.96 L485.09,277.71 L485.55,279.47 L486.01,281.23 L486.47,282.99 L486.92,284.75 L487.38,286.51 L487.84,288.27 L488.29,290.03 L488.75,291.79 L489.20,293.55 L489.66,295.31 L490.11,297.07 L490.56,298.83 L491.01,300.59 L491.46,302.35 L491.91,304.12 L492.36,305.88 L492.81,307.64 L493.26,309.41 L493.70,311.17 L494.15,312.93 L494.59,314.70 L495.04,316.46 L495.48,318.22 L495.92,319.99 L496.36,321.75 L496.80,323.51 L497.24,325.28 L497.68,327.04 L498.12,328.81 L498.56,330.57 L499.00,332.33 L499.45,334.09 L499.91,335.84 L500.37,337.60 L500.85,339.35 L501.34,341.09 L501.84,342.83 L502.36,344.56 L502.89,346.29 L503.45,348.01 L504.03,349.73 L504.63,351.43 L505.26,353.13 L505.91,354.82 L506.59,356.49 L507.30,358.16 L508.05,359.82 L508.83,361.46 L509.64,363.09" stroke="#1212d8" stroke-width="3.8"/>
</g>
<g clip-path="url(#cb)">
<!-- panel B curves -->
<path d="M53.49,737.70 L54.81,737.51 L56.14,737.34 L57.48,737.18 L58.82,737.03 L60.15,736.62 L61.54,736.84 L62.91,736.83 L64.26,736.58 L65.63,736.31 L67.02,736.39 L68.41,736.44 L69.79,736.08 L71.18,735.93 L72.58,735.98 L73.98,735.84 L75.39,735.69 L76.78,735.12 L78.20,735.08 L79.60,734.76 L81.04,735.05 L82.46,735.01 L83.90,735.39 L85.33,735.43 L86.76,735.60 L88.17,735.00 L89.60,734.82 L91.03,734.80 L92.48,735.28 L93.91,735.03 L95.33,734.90 L96.76,734.62 L98.19,734.70 L99.64,734.95 L101.07,734.91 L102.51,734.99 L103.93,734.87 L105.36,734.82 L106.79,734.71 L108.20,734.45 L109.63,734.46 L111.02,734.11 L112.43,733.97 L113.87,734.08 L115.27,733.86 L116.69,733.85 L118.06,733.42 L119.47,733.40 L120.90,733.42 L122.31,733.33 L123.67,732.98 L124.98,732.35 L126.34,732.05 L127.74,731.97 L129.12,731.79 L130.44,731.34 L131.83,731.18 L133.21,730.97 L134.50,730.48 L135.80,730.00 L137.00,729.22 L138.35,728.95 L139.56,728.24 L140.83,727.75 L142.09,727.21 L143.52,727.10 L144.92,726.90 L146.10,726.16 L147.22,725.30 L148.43,724.64 L149.62,723.94 L150.88,723.41 L152.05,722.68 L153.57,722.64 L154.91,722.21 L156.11,721.52 L157.18,720.58 L158.30,719.75 L159.70,719.39 L160.90,718.70 L162.10,717.99 L163.18,717.08 L164.41,716.42 L165.62,715.72 L166.66,714.74 L167.86,714.02 L169.02,713.23 L170.46,712.87 L171.71,712.22 L172.95,711.53 L174.08,710.68 L175.15,709.75 L176.45,709.15 L177.56,708.27 L178.85,707.64 L179.77,706.47 L180.99,705.75 L181.93,704.58 L183.03,703.67 L184.14,702.78 L185.42,702.13 L186.85,701.71 L188.32,701.36 L189.52,700.59 L190.62,699.68 L191.60,698.56 L192.94,698.01 L194.18,697.32 L195.34,696.48 L196.56,695.75 L197.84,695.09 L198.95,694.19 L200.06,693.29 L201.21,692.44 L202.40,691.66 L203.63,690.95 L204.73,690.03 L206.14,689.59 L207.32,688.81 L208.61,688.19 L209.62,687.14 L210.76,686.31 L211.70,685.17 L212.81,684.29 L214.02,683.58 L215.17,682.76 L216.54,682.28 L217.44,681.12 L218.92,680.78 L219.85,679.68 L221.28,679.26 L222.33,678.32 L223.35,677.37 L224.51,676.60 L225.77,675.95 L227.04,675.31 L227.93,674.20 L228.80,673.07 L229.73,672.04 L230.96,671.35 L231.95,670.38 L233.10,669.60 L233.85,668.39 L234.84,667.44 L235.66,666.31 L236.92,665.64 L237.95,664.73 L239.23,664.05 L239.99,662.88 L240.84,661.79 L241.55,660.60 L242.36,659.48 L243.35,658.52 L244.20,657.45 L245.09,656.40 L245.71,655.14 L246.45,653.99 L247.58,653.10 L248.48,652.04 L249.22,650.87 L249.77,649.57 L250.87,648.62 L251.55,647.40 L252.18,646.15 L252.55,644.74 L253.21,643.51 L254.07,642.39 L254.86,641.22 L255.86,640.16 L256.27,638.78 L257.02,637.58 L257.56,636.27 L258.32,635.06 L258.68,633.66 L259.19,632.33 L260.08,631.18 L260.81,629.96 L261.70,628.80 L262.06,627.40 L262.68,626.11 L263.14,624.76 L263.86,623.52 L264.48,622.24 L265.14,620.97 L265.62,619.63 L266.48,618.45 L267.22,617.23 L267.87,615.96 L268.14,614.53 L268.35,613.07 L269.04,611.83 L269.91,610.67 L270.72,609.49 L271.24,608.18 L271.80,606.90 L272.58,605.71 L273.24,604.48 L273.61,603.11 L274.33,601.91 L274.53,600.47 L275.36,599.32 L275.75,597.98 L276.71,596.89 L277.46,595.71 L278.19,594.52 L278.36,593.08 L278.22,591.53 L278.61,590.21 L279.12,588.93 L279.90,587.75 L280.35,586.45 L280.66,585.09 L280.66,583.65 L280.92,582.29 L281.60,581.04 L282.29,579.77 L282.55,578.38 L282.66,576.96 L282.68,575.53 L282.90,574.13 L283.13,572.73 L283.35,571.33 L283.73,569.95 L284.15,568.58 L284.81,567.25 L284.78,565.80 L284.94,564.38 L284.95,562.94 L285.27,561.56 L285.75,560.21 L286.11,558.85 L286.68,557.54 L287.04,556.19 L287.93,554.97 L287.95,553.52 L288.41,552.20 L288.36,550.74 L289.00,549.47 L288.92,547.99 L289.22,546.63 L289.74,545.33 L290.38,544.06 L290.87,542.75 L291.04,541.35 L291.66,540.07 L292.01,538.72 L292.02,537.28 L292.03,535.84 L292.02,534.39 L292.17,533.00 L292.55,531.66 L293.54,530.48 L294.51,529.28 L294.72,527.90 L294.60,526.43 L295.12,525.12 L295.69,523.81 L296.19,522.49 L296.25,521.07 L296.52,519.69 L296.95,518.35 L297.35,516.99 L297.66,515.62 L297.56,514.17 L297.82,512.79 L297.90,511.37 L298.58,510.07 L298.48,508.62 L298.84,507.25 L298.87,505.83 L299.10,504.44 L299.71,503.11 L300.24,501.77 L300.65,500.41 L300.70,498.98 L300.72,497.56 L300.54,496.09 L300.67,494.68 L300.82,493.28 L301.58,491.97 L301.56,490.54 L301.75,489.14 L301.94,487.74 L302.62,486.42 L302.98,485.05 L303.26,483.67 L303.57,482.29 L303.64,480.87 L303.82,479.47 L303.41,477.96 L304.09,476.65 L304.62,475.32 L305.42,474.04 L305.51,472.63 L305.62,471.22 L305.76,469.81 L305.86,468.40 L306.09,467.01 L306.36,465.63 L307.00,464.34 L307.46,463.00 L307.75,461.64 L307.67,460.18 L307.77,458.76 L308.43,457.48 L308.99,456.18 L309.48,454.87 L309.47,453.42 L309.53,451.99 L309.89,450.63 L310.51,449.36 L311.05,448.07 L311.43,446.72 L311.65,445.33 L312.18,444.03 L312.36,442.62 L312.82,441.30 L313.11,439.92 L314.05,438.78 L314.45,437.44 L315.22,436.24 L315.85,434.99 L316.47,433.74 L316.80,432.36 L317.12,430.99 L317.76,429.81 L318.33,428.66 L319.05,427.73 L320.05,427.28 L320.84,426.95 L321.55,426.63 L322.58,426.14 L323.65,426.75 L324.95,427.48 L326.16,428.64 L327.12,430.09 L328.04,431.50 L328.47,433.08 L329.12,434.44 L329.50,435.88 L330.12,437.18 L330.54,438.57 L331.10,439.90 L331.77,441.19 L332.84,442.35 L333.22,443.74 L333.22,445.23 L333.17,446.72 L333.73,448.03 L334.54,449.28 L335.17,450.58 L335.27,452.02 L335.48,453.42 L335.66,454.82 L335.98,456.19 L336.31,457.55 L336.66,458.91 L336.99,460.27 L337.25,461.65 L337.44,463.04 L337.42,464.48 L337.60,465.87 L338.00,467.21 L339.01,468.41 L339.37,469.76 L340.09,471.02 L340.36,472.39 L340.61,473.76 L340.44,475.24 L340.55,476.66 L341.40,477.88 L341.97,479.17 L342.44,480.48 L342.36,481.95 L342.23,483.44 L342.44,484.83 L343.10,486.09 L344.15,487.24 L344.60,488.56 L344.89,489.93 L345.29,491.26 L345.67,492.60 L346.27,493.88 L346.26,495.34 L346.51,496.73 L346.51,498.20 L347.25,499.43 L347.79,500.72 L348.46,501.97 L348.89,503.30 L349.51,504.56 L350.18,505.81 L350.84,507.06 L351.09,508.45 L351.34,509.84 L351.50,511.27 L351.93,512.60 L352.70,513.81 L353.37,515.05 L354.01,516.31 L354.09,517.76 L354.51,519.10 L354.84,520.47 L355.37,521.77 L356.03,523.02 L356.89,524.19 L357.29,525.53 L357.48,526.96 L358.17,528.20 L358.59,529.54 L359.08,530.85 L358.99,532.40 L359.83,533.57 L360.52,534.80 L361.50,535.92 L361.49,537.44 L362.00,538.75 L362.03,540.25 L363.15,541.31 L363.62,542.63 L364.76,543.68 L365.25,545.00 L365.64,546.36 L366.10,547.68 L366.38,549.09 L367.04,550.34 L367.55,551.65 L368.38,552.82 L369.08,554.05 L369.44,555.42 L370.00,556.71 L370.62,557.97 L371.22,559.24 L371.86,560.49 L372.50,561.75 L373.01,563.06 L373.21,564.50 L373.81,565.77 L374.36,567.07 L375.20,568.24 L375.65,569.57 L376.05,570.93 L376.58,572.23 L376.69,573.71 L377.54,574.87 L377.93,576.23 L378.81,577.39 L379.36,578.68 L379.88,579.98 L380.42,581.28 L380.73,582.68 L381.40,583.91 L382.13,585.13 L382.82,586.36 L383.36,587.66 L383.54,589.11 L384.24,590.33 L384.82,591.61 L385.87,592.68 L386.15,594.09 L386.90,595.29 L387.48,596.57 L388.17,597.80 L388.34,599.26 L388.85,600.56 L389.61,601.76 L390.52,602.89 L391.02,604.20 L391.32,605.59 L391.91,606.87 L392.41,608.18 L392.96,609.47 L393.53,610.74 L393.90,612.11 L394.77,613.25 L395.44,614.48 L396.44,615.56 L396.53,617.07 L396.96,618.41 L397.19,619.85 L398.13,620.95 L398.65,622.25 L399.29,623.49 L399.56,624.92 L400.39,626.07 L401.30,627.18 L402.44,628.17 L403.12,629.39 L403.34,630.85 L403.65,632.26 L404.22,633.54 L405.24,634.58 L406.09,635.71 L406.33,637.16 L407.23,638.26 L407.74,639.58 L408.84,640.57 L408.83,642.17 L409.78,643.24 L410.32,644.54 L411.45,645.51 L412.12,646.73 L412.52,648.11 L412.81,649.55 L413.42,650.82 L414.52,651.80 L415.70,652.72 L416.42,653.91 L417.00,655.19 L417.42,656.57 L418.11,657.79 L419.03,658.86 L419.78,660.04 L420.52,661.22 L420.88,662.66 L421.33,664.04 L422.12,665.20 L423.24,666.13 L424.35,667.07 L425.22,668.16 L426.01,669.31 L426.82,670.45 L427.70,671.54 L428.31,672.83 L429.14,673.95 L429.77,675.23 L430.74,676.26 L431.69,677.29 L432.73,678.26 L433.60,679.35 L434.45,680.47 L435.14,681.71 L435.99,682.83 L437.01,683.80 L437.94,684.86 L439.06,685.75 L439.86,686.91 L440.84,687.92 L441.88,688.87 L442.71,690.01 L443.59,691.11 L444.27,692.40 L445.30,693.36 L446.35,694.31 L447.44,695.21 L448.40,696.24 L449.42,697.21 L450.27,698.35 L451.40,699.20 L452.30,700.29 L453.32,701.27 L454.20,702.39 L455.32,703.25 L456.31,704.26 L457.56,704.97 L458.49,706.04 L459.59,706.92 L460.40,708.13 L461.49,709.03 L462.69,709.79 L463.84,710.60 L464.90,711.52 L465.87,712.57 L466.92,713.51 L468.30,714.02 L469.40,714.89 L470.41,715.88 L471.25,717.12 L472.42,717.89 L473.89,718.26 L475.04,719.05 L476.24,719.78 L477.51,720.40 L478.74,721.08 L480.06,721.61 L481.10,722.57 L482.39,723.14 L483.29,724.34 L484.39,725.22 L485.51,726.09 L486.67,726.88 L487.70,727.91 L488.96,728.53 L490.38,728.85 L491.88,729.01 L493.17,729.55 L494.35,730.30 L495.45,731.22 L496.63,731.98 L497.85,732.68 L499.21,733.06 L500.50,733.61 L501.79,734.13 L502.97,734.93 L504.17,735.69 L505.64,735.78 L506.94,736.30 L508.24,736.80 L509.54,737.29 L510.86,737.78" stroke="#e8482a" stroke-width="3.5"/>
<path d="M53.30,735.41 L54.22,735.37 L55.14,735.33 L56.05,735.29 L56.97,735.25 L57.89,735.14 L58.81,735.20 L59.73,735.07 L60.65,735.21 L61.56,735.21 L62.48,735.25 L63.40,735.09 L64.32,734.93 L65.24,734.83 L66.16,734.65 L67.07,734.59 L67.99,734.36 L68.91,734.40 L69.83,734.30 L70.75,734.31 L71.66,734.16 L72.58,734.19 L73.50,734.23 L74.42,734.20 L75.34,734.13 L76.26,734.03 L77.17,733.89 L78.09,733.71 L79.01,733.58 L79.93,733.43 L80.85,733.29 L81.77,733.16 L82.68,733.04 L83.60,732.92 L84.52,732.78 L85.44,732.73 L86.36,732.65 L87.27,732.55 L88.19,732.47 L89.11,732.31 L90.03,732.11 L90.95,731.86 L91.87,731.65 L92.78,731.59 L93.70,731.39 L94.62,731.30 L95.54,731.12 L96.46,731.09 L97.38,730.97 L98.29,730.80 L99.21,730.55 L100.13,730.24 L101.05,730.00 L101.97,729.86 L102.88,729.82 L103.80,729.74 L104.72,729.59 L105.64,729.42 L106.56,729.15 L107.48,728.77 L108.39,728.40 L109.31,728.22 L110.23,728.10 L111.15,727.92 L112.07,727.58 L112.99,727.33 L113.90,727.11 L114.82,726.92 L115.74,726.73 L116.66,726.54 L117.58,726.35 L118.49,726.13 L119.41,725.82 L120.33,725.64 L121.25,725.36 L122.17,725.08 L123.09,724.70 L124.00,724.38 L124.92,724.13 L125.84,723.88 L126.76,723.71 L127.68,723.39 L128.60,723.02 L129.51,722.72 L130.43,722.41 L131.35,722.07 L132.27,721.74 L133.19,721.29 L134.10,721.02 L135.02,720.66 L135.94,720.51 L136.86,720.23 L137.78,719.86 L138.70,719.47 L139.61,718.93 L140.53,718.62 L141.45,718.27 L142.37,718.04 L143.29,717.54 L144.21,717.04 L145.12,716.65 L146.04,716.21 L146.96,715.86 L147.88,715.35 L148.80,714.85 L149.71,714.44 L150.63,714.12 L151.55,713.79 L152.47,713.32 L153.39,712.98 L154.31,712.62 L155.22,712.24 L156.14,711.70 L157.06,711.28 L157.98,710.83 L158.90,710.36 L159.82,709.95 L160.73,709.53 L161.65,708.94 L162.57,708.35 L163.49,707.90 L164.41,707.47 L165.32,706.95 L166.24,706.33 L167.16,705.85 L168.08,705.10 L169.00,704.50 L169.92,703.68 L170.83,703.31 L171.75,702.62 L172.67,702.23 L173.59,701.46 L174.51,701.19 L175.43,700.62 L176.34,700.10 L177.26,699.29 L178.18,698.52 L179.10,697.90 L180.02,697.43 L180.93,697.12 L181.85,696.69 L182.77,695.99 L183.69,695.22 L184.61,694.43 L185.53,693.88 L186.44,693.18 L187.36,692.43 L188.28,691.63 L189.20,690.89 L190.12,690.51 L191.04,690.00 L191.95,689.26 L192.87,688.28 L193.79,687.32 L194.71,686.73 L195.63,685.90 L196.54,685.11 L197.46,684.51 L198.38,683.99 L199.30,683.37 L200.22,682.57 L201.14,681.66 L202.05,680.96 L202.97,680.03 L203.89,679.76 L204.81,678.90 L205.73,677.82 L206.65,676.81 L207.56,675.62 L208.48,675.42 L209.40,674.38 L210.32,673.78 L211.24,672.80 L212.15,672.18 L213.07,671.50 L213.99,670.55 L214.91,669.22 L215.83,668.26 L216.75,667.40 L217.66,666.98 L218.58,666.35 L219.50,665.40 L220.42,664.53 L221.34,663.25 L222.26,661.95 L223.17,660.80 L224.09,660.13 L225.01,659.34 L225.93,658.47 L226.85,657.55 L227.76,656.51 L228.68,655.51 L229.60,654.52 L230.52,653.73 L231.44,652.49 L232.36,651.08 L233.27,649.84 L234.19,648.88 L235.11,647.76 L236.03,646.59 L236.95,645.26 L237.87,644.03 L238.78,643.48 L239.70,642.78 L240.62,641.91 L241.54,640.02 L242.46,638.49 L243.37,637.38 L244.29,636.65 L245.21,635.51 L246.13,634.21 L247.05,632.55 L247.97,630.82 L248.88,629.50 L249.80,628.26 L250.72,627.57 L251.64,626.52 L252.56,625.65 L253.48,624.35 L254.39,622.20 L255.31,620.49 L256.23,619.18 L257.15,618.20 L258.07,616.56 L258.98,614.86 L259.90,613.46 L260.82,612.32 L261.74,610.38 L262.66,608.45 L263.58,606.70 L264.49,604.37 L265.41,602.51 L266.33,600.25 L267.25,599.02 L268.17,596.65 L269.09,594.67 L270.00,592.49 L270.92,591.08 L271.84,588.93 L272.76,587.06 L273.68,584.96 L274.59,583.33 L275.51,581.02 L276.43,578.38 L277.35,576.01 L278.27,574.12 L279.19,572.63 L280.10,570.85 L281.02,569.20 L281.94,567.41 L282.86,565.78 L283.78,563.62 L284.70,561.51 L285.61,559.22 L286.53,557.46 L287.45,555.58 L288.37,554.05 L289.29,552.37 L290.21,550.59 L291.12,548.55 L292.04,546.37 L292.96,544.68 L293.88,543.31 L294.80,541.11 L295.71,539.03 L296.63,536.90 L297.55,535.58 L298.47,534.18 L299.39,531.75 L300.31,529.33 L301.22,526.55 L302.14,524.53 L303.06,522.63 L303.98,520.43 L304.90,518.14 L305.82,516.40 L306.73,514.79 L307.65,513.47 L308.57,511.36 L309.49,510.24 L310.41,508.41 L311.32,506.76 L312.24,504.90 L313.16,503.39 L314.08,502.43 L315.00,500.62 L315.92,499.55 L316.83,497.76 L317.75,497.05 L318.67,496.42 L319.59,495.71 L320.51,495.03 L321.43,493.65 L322.34,493.57 L323.26,493.40 L324.18,493.37 L325.10,493.23 L326.02,492.92 L326.93,493.20 L327.85,493.72 L328.77,494.45 L329.69,495.37 L330.61,496.27 L331.53,497.60 L332.44,498.60 L333.36,499.48 L334.28,500.29 L335.20,501.61 L336.12,503.29 L337.04,505.02 L337.95,506.71 L338.87,508.30 L339.79,510.38 L340.71,512.76 L341.63,514.61 L342.54,516.20 L343.46,517.38 L344.38,519.14 L345.30,520.80 L346.22,522.78 L347.14,524.47 L348.05,526.43 L348.97,528.11 L349.89,530.07 L350.81,531.75 L351.73,533.50 L352.65,535.25 L353.56,536.69 L354.48,538.45 L355.40,540.33 L356.32,542.42 L357.24,543.99 L358.15,545.57 L359.07,547.20 L359.99,549.20 L360.91,550.99 L361.83,553.11 L362.75,555.17 L363.66,557.03 L364.58,558.73 L365.50,560.54 L366.42,562.67 L367.34,564.37 L368.26,565.98 L369.17,567.80 L370.09,569.46 L371.01,571.67 L371.93,573.50 L372.85,575.71 L373.76,577.27 L374.68,578.92 L375.60,580.32 L376.52,582.13 L377.44,583.99 L378.36,585.74 L379.27,587.55 L380.19,589.07 L381.11,590.92 L382.03,591.95 L382.95,593.64 L383.87,595.32 L384.78,597.14 L385.70,598.71 L386.62,600.43 L387.54,601.98 L388.46,602.97 L389.37,604.64 L390.29,606.43 L391.21,608.22 L392.13,609.28 L393.05,611.01 L393.97,612.78 L394.88,614.17 L395.80,615.30 L396.72,616.67 L397.64,618.30 L398.56,620.20 L399.48,621.74 L400.39,623.09 L401.31,624.27 L402.23,624.95 L403.15,626.56 L404.07,627.59 L404.98,629.49 L405.90,630.65 L406.82,632.29 L407.74,633.61 L408.66,634.84 L409.58,635.76 L410.49,636.90 L411.41,638.28 L412.33,639.62 L413.25,640.96 L414.17,642.34 L415.09,643.68 L416.00,644.85 L416.92,645.68 L417.84,647.38 L418.76,648.86 L419.68,650.25 L420.59,651.32 L421.51,652.04 L422.43,653.32 L423.35,654.43 L424.27,656.12 L425.19,657.30 L426.10,658.41 L427.02,659.31 L427.94,660.15 L428.86,661.46 L429.78,662.69 L430.70,664.16 L431.61,664.85 L432.53,665.62 L433.45,666.46 L434.37,667.81 L435.29,669.21 L436.20,670.60 L437.12,671.69 L438.04,672.64 L438.96,673.33 L439.88,674.43 L440.80,675.75 L441.71,676.69 L442.63,677.46 L443.55,678.80 L444.47,680.55 L445.39,682.02 L446.31,683.32 L447.22,684.48 L448.14,685.15 L449.06,685.65 L449.98,686.74 L450.90,688.05 L451.81,689.30 L452.73,690.10 L453.65,690.93 L454.57,691.95 L455.49,692.82 L456.41,694.18 L457.32,695.94 L458.24,697.23 L459.16,698.11 L460.08,698.71 L461.00,699.70 L461.92,700.53 L462.83,701.30 L463.75,702.51 L464.67,703.73 L465.59,704.32 L466.51,704.87 L467.42,705.91 L468.34,707.14 L469.26,708.93 L470.18,710.15 L471.10,710.88 L472.02,711.70 L472.93,712.33 L473.85,713.77 L474.77,714.66 L475.69,715.22 L476.61,715.81 L477.53,716.01 L478.44,717.07 L479.36,718.04 L480.28,719.38 L481.20,720.27 L482.12,721.18 L483.03,721.82 L483.95,723.07 L484.87,723.82 L485.79,724.75 L486.71,724.98 L487.63,725.73 L488.54,726.20 L489.46,726.97 L490.38,727.47 L491.30,728.20 L492.22,728.28 L493.14,728.82 L494.05,729.62 L494.97,730.61 L495.89,731.13 L496.81,731.30 L497.73,732.20 L498.64,732.88 L499.56,733.40 L500.48,733.42 L501.40,733.76 L502.32,733.85 L503.24,733.98 L504.15,734.26 L505.07,734.76 L505.99,735.29 L506.91,735.81 L507.83,736.09 L508.75,736.31 L509.66,736.50 L510.58,736.67 L511.50,736.81" stroke="#b0103a" stroke-width="4.0"/>
<path d="M53.30,736.24 L54.22,736.20 L55.14,736.16 L56.05,736.11 L56.97,736.07 L57.89,735.93 L58.81,736.06 L59.73,735.95 L60.65,735.89 L61.56,735.84 L62.48,735.88 L63.40,735.84 L64.32,735.56 L65.24,735.32 L66.16,735.30 L67.07,735.38 L67.99,735.32 L68.91,735.29 L69.83,735.22 L70.75,735.19 L71.66,735.03 L72.58,734.92 L73.50,734.83 L74.42,734.79 L75.34,734.68 L76.26,734.61 L77.17,734.53 L78.09,734.46 L79.01,734.28 L79.93,734.12 L80.85,733.92 L81.77,733.91 L82.68,733.82 L83.60,733.69 L84.52,733.62 L85.44,733.58 L86.36,733.56 L87.27,733.30 L88.19,733.05 L89.11,732.91 L90.03,732.87 L90.95,732.77 L91.87,732.57 L92.78,732.36 L93.70,732.22 L94.62,732.29 L95.54,732.18 L96.46,731.97 L97.38,731.67 L98.29,731.59 L99.21,731.42 L100.13,731.06 L101.05,730.75 L101.97,730.52 L102.88,730.42 L103.80,730.18 L104.72,729.98 L105.64,729.99 L106.56,729.91 L107.48,729.78 L108.39,729.35 L109.31,729.07 L110.23,728.86 L111.15,728.70 L112.07,728.50 L112.99,728.34 L113.90,728.21 L114.82,728.01 L115.74,727.58 L116.66,727.26 L117.58,726.91 L118.49,726.71 L119.41,726.44 L120.33,726.26 L121.25,726.10 L122.17,725.70 L123.09,725.45 L124.00,725.08 L124.92,724.93 L125.84,724.55 L126.76,724.39 L127.68,724.09 L128.60,723.89 L129.51,723.45 L130.43,723.20 L131.35,722.85 L132.27,722.53 L133.19,722.13 L134.10,721.75 L135.02,721.42 L135.94,721.18 L136.86,720.88 L137.78,720.56 L138.70,720.03 L139.61,719.71 L140.53,719.37 L141.45,719.08 L142.37,718.59 L143.29,718.31 L144.21,718.01 L145.12,717.65 L146.04,717.14 L146.96,716.64 L147.88,716.25 L148.80,715.87 L149.71,715.39 L150.63,714.94 L151.55,714.51 L152.47,714.23 L153.39,713.87 L154.31,713.45 L155.22,712.87 L156.14,712.40 L157.06,711.99 L157.98,711.66 L158.90,711.26 L159.82,710.70 L160.73,710.10 L161.65,709.59 L162.57,709.08 L163.49,708.69 L164.41,708.09 L165.32,707.49 L166.24,706.91 L167.16,706.36 L168.08,705.93 L169.00,705.35 L169.92,704.69 L170.83,704.12 L171.75,703.55 L172.67,703.22 L173.59,702.68 L174.51,702.19 L175.43,701.69 L176.34,700.92 L177.26,700.42 L178.18,699.66 L179.10,699.23 L180.02,698.35 L180.93,697.83 L181.85,697.30 L182.77,696.78 L183.69,695.87 L184.61,695.32 L185.53,694.92 L186.44,694.29 L187.36,693.49 L188.28,692.66 L189.20,692.23 L190.12,691.50 L191.04,691.05 L191.95,690.22 L192.87,689.53 L193.79,688.41 L194.71,687.53 L195.63,686.95 L196.54,686.35 L197.46,685.65 L198.38,684.64 L199.30,684.02 L200.22,683.57 L201.14,683.06 L202.05,682.16 L202.97,681.10 L203.89,680.37 L204.81,679.76 L205.73,679.10 L206.65,678.08 L207.56,677.33 L208.48,676.33 L209.40,675.62 L210.32,674.85 L211.24,674.16 L212.15,673.19 L213.07,671.55 L213.99,670.48 L214.91,669.59 L215.83,669.46 L216.75,668.50 L217.66,668.06 L218.58,666.79 L219.50,666.07 L220.42,664.78 L221.34,663.58 L222.26,662.78 L223.17,662.06 L224.09,660.96 L225.01,659.69 L225.93,658.10 L226.85,657.54 L227.76,656.76 L228.68,656.43 L229.60,655.14 L230.52,654.35 L231.44,652.80 L232.36,652.10 L233.27,650.76 L234.19,649.96 L235.11,648.59 L236.03,647.77 L236.95,646.69 L237.87,645.43 L238.78,643.98 L239.70,642.73 L240.62,641.68 L241.54,640.34 L242.46,638.96 L243.37,638.13 L244.29,637.33 L245.21,636.08 L246.13,634.91 L247.05,633.10 L247.97,632.58 L248.88,631.10 L249.80,630.63 L250.72,628.72 L251.64,627.40 L252.56,625.82 L253.48,624.61 L254.39,622.92 L255.31,621.24 L256.23,619.66 L257.15,618.45 L258.07,616.97 L258.98,615.34 L259.90,613.76 L260.82,612.35 L261.74,610.81 L262.66,609.17 L263.58,607.16 L264.49,605.74 L265.41,603.97 L266.33,602.73 L267.25,600.55 L268.17,598.52 L269.09,596.19 L270.00,594.24 L270.92,592.44 L271.84,590.49 L272.76,588.52 L273.68,586.84 L274.59,584.60 L275.51,582.33 L276.43,579.73 L277.35,578.14 L278.27,576.23 L279.19,574.40 L280.10,572.33 L281.02,570.29 L281.94,567.82 L282.86,565.47 L283.78,563.58 L284.70,562.28 L285.61,560.42 L286.53,558.08 L287.45,555.50 L288.37,553.07 L289.29,550.85 L290.21,549.06 L291.12,546.89 L292.04,544.82 L292.96,542.12 L293.88,539.74 L294.80,537.73 L295.71,536.13 L296.63,534.27 L297.55,532.22 L298.47,529.80 L299.39,527.82 L300.31,525.79 L301.22,524.40 L302.14,523.29 L303.06,521.91 L303.98,519.91 L304.90,517.43 L305.82,515.63 L306.73,513.58 L307.65,511.67 L308.57,509.98 L309.49,508.21 L310.41,507.14 L311.32,505.25 L312.24,504.22 L313.16,502.09 L314.08,500.80 L315.00,499.36 L315.92,498.66 L316.83,497.07 L317.75,495.84 L318.67,494.42 L319.59,494.34 L320.51,493.82 L321.43,493.74 L322.34,493.39 L323.26,493.25 L324.18,493.45 L325.10,493.43 L326.02,494.14 L326.93,494.17 L327.85,495.24 L328.77,495.94 L329.69,497.19 L330.61,498.25 L331.53,499.89 L332.44,501.18 L333.36,502.23 L334.28,503.11 L335.20,504.88 L336.12,506.02 L337.04,507.55 L337.95,508.83 L338.87,510.90 L339.79,512.38 L340.71,514.16 L341.63,515.70 L342.54,517.55 L343.46,519.45 L344.38,521.40 L345.30,523.02 L346.22,524.67 L347.14,526.41 L348.05,528.71 L348.97,530.99 L349.89,532.79 L350.81,534.54 L351.73,536.38 L352.65,538.44 L353.56,540.11 L354.48,541.55 L355.40,542.97 L356.32,545.27 L357.24,547.27 L358.15,549.25 L359.07,550.62 L359.99,552.64 L360.91,554.75 L361.83,556.84 L362.75,558.56 L363.66,560.00 L364.58,561.43 L365.50,563.08 L366.42,564.88 L367.34,566.85 L368.26,568.47 L369.17,570.29 L370.09,572.22 L371.01,573.88 L371.93,575.54 L372.85,577.41 L373.76,578.99 L374.68,580.91 L375.60,582.24 L376.52,584.14 L377.44,586.14 L378.36,587.65 L379.27,588.90 L380.19,590.41 L381.11,592.66 L382.03,594.41 L382.95,595.83 L383.87,596.96 L384.78,598.95 L385.70,600.62 L386.62,602.22 L387.54,603.78 L388.46,604.71 L389.37,605.82 L390.29,607.38 L391.21,609.27 L392.13,611.12 L393.05,612.55 L393.97,613.53 L394.88,614.41 L395.80,615.39 L396.72,617.24 L397.64,618.99 L398.56,620.22 L399.48,621.29 L400.39,622.52 L401.31,623.98 L402.23,625.28 L403.15,626.82 L404.07,628.11 L404.98,629.37 L405.90,630.13 L406.82,631.74 L407.74,632.99 L408.66,634.27 L409.58,635.04 L410.49,636.29 L411.41,637.28 L412.33,638.66 L413.25,639.27 L414.17,640.26 L415.09,640.92 L416.00,641.96 L416.92,643.47 L417.84,644.71 L418.76,646.25 L419.68,647.58 L420.59,648.50 L421.51,649.71 L422.43,650.38 L423.35,651.91 L424.27,653.08 L425.19,654.23 L426.10,655.30 L427.02,656.09 L427.94,657.61 L428.86,658.39 L429.78,659.61 L430.70,660.03 L431.61,661.16 L432.53,662.35 L433.45,663.98 L434.37,665.42 L435.29,667.10 L436.20,668.29 L437.12,669.06 L438.04,669.58 L438.96,670.73 L439.88,671.97 L440.80,672.83 L441.71,674.12 L442.63,675.50 L443.55,676.49 L444.47,677.28 L445.39,678.47 L446.31,680.16 L447.22,681.43 L448.14,682.56 L449.06,683.47 L449.98,684.45 L450.90,685.59 L451.81,686.77 L452.73,688.21 L453.65,689.01 L454.57,690.20 L455.49,691.13 L456.41,692.50 L457.32,693.60 L458.24,694.47 L459.16,695.33 L460.08,696.00 L461.00,696.99 L461.92,698.24 L462.83,699.94 L463.75,700.80 L464.67,701.33 L465.59,702.48 L466.51,703.41 L467.42,705.06 L468.34,705.70 L469.26,707.15 L470.18,707.64 L471.10,708.37 L472.02,709.12 L472.93,709.89 L473.85,711.06 L474.77,711.36 L475.69,712.32 L476.61,712.60 L477.53,713.87 L478.44,714.98 L479.36,715.84 L480.28,716.80 L481.20,717.05 L482.12,718.39 L483.03,718.96 L483.95,720.32 L484.87,720.71 L485.79,721.52 L486.71,722.12 L487.63,722.84 L488.54,723.73 L489.46,724.75 L490.38,725.09 L491.30,725.20 L492.22,725.65 L493.14,726.22 L494.05,727.61 L494.97,728.26 L495.89,729.57 L496.81,730.07 L497.73,730.37 L498.64,730.72 L499.56,730.96 L500.48,731.84 L501.40,733.01 L502.32,733.74 L503.24,733.93 L504.15,733.88 L505.07,733.77 L505.99,734.32 L506.91,734.98 L507.83,735.63 L508.75,736.10 L509.66,736.54 L510.58,736.98 L511.50,737.41" stroke="#18e018" stroke-width="4.4"/>
<path d="M53.30,736.71 L54.21,736.63 L55.12,736.55 L56.02,736.47 L56.93,736.39 L57.84,736.47 L58.75,736.31 L59.65,736.18 L60.56,736.08 L61.47,735.95 L62.38,735.89 L63.28,735.89 L64.19,735.83 L65.10,735.86 L66.01,735.57 L66.91,735.53 L67.82,735.43 L68.73,735.40 L69.64,735.43 L70.54,735.22 L71.45,735.16 L72.36,734.92 L73.27,734.96 L74.17,734.87 L75.08,734.80 L75.99,734.58 L76.90,734.47 L77.80,734.29 L78.71,734.22 L79.62,734.23 L80.53,734.26 L81.43,734.13 L82.34,733.87 L83.25,733.64 L84.16,733.63 L85.06,733.53 L85.97,733.51 L86.88,733.44 L87.79,733.42 L88.69,733.23 L89.60,733.06 L90.51,732.95 L91.42,732.93 L92.32,732.80 L93.23,732.58 L94.14,732.35 L95.05,732.21 L95.95,732.06 L96.86,732.11 L97.77,731.88 L98.68,731.81 L99.58,731.50 L100.49,731.46 L101.40,731.30 L102.31,731.32 L103.21,731.18 L104.12,731.01 L105.03,730.80 L105.94,730.73 L106.84,730.65 L107.75,730.43 L108.66,730.12 L109.57,729.81 L110.47,729.58 L111.38,729.39 L112.29,729.20 L113.20,729.15 L114.10,729.03 L115.01,728.85 L115.92,728.57 L116.83,728.30 L117.73,728.20 L118.64,727.90 L119.55,727.81 L120.46,727.50 L121.36,727.38 L122.27,727.20 L123.18,727.06 L124.09,726.73 L124.99,726.44 L125.90,726.07 L126.81,725.96 L127.72,725.71 L128.62,725.55 L129.53,725.16 L130.44,724.91 L131.35,724.66 L132.25,724.46 L133.16,724.02 L134.07,723.78 L134.98,723.44 L135.88,723.26 L136.79,722.96 L137.70,722.62 L138.61,722.30 L139.51,721.89 L140.42,721.48 L141.33,721.04 L142.24,720.74 L143.14,720.60 L144.05,720.41 L144.96,720.04 L145.87,719.72 L146.77,719.23 L147.68,718.78 L148.59,718.35 L149.50,718.11 L150.40,717.78 L151.31,717.33 L152.22,716.86 L153.13,716.41 L154.03,716.02 L154.94,715.72 L155.85,715.31 L156.76,714.87 L157.66,714.22 L158.57,713.75 L159.48,713.25 L160.39,712.86 L161.29,712.52 L162.20,712.04 L163.11,711.54 L164.02,711.01 L164.92,710.50 L165.83,710.06 L166.74,709.70 L167.65,709.05 L168.55,708.51 L169.46,707.84 L170.37,707.52 L171.28,707.01 L172.18,706.52 L173.09,705.95 L174.00,705.51 L174.91,704.97 L175.81,704.42 L176.72,703.86 L177.63,703.25 L178.54,702.55 L179.44,701.78 L180.35,701.12 L181.26,700.90 L182.17,700.13 L183.07,699.58 L183.98,698.67 L184.89,698.25 L185.80,697.57 L186.70,696.87 L187.61,695.96 L188.52,695.45 L189.43,694.90 L190.33,694.21 L191.24,693.44 L192.15,692.78 L193.06,692.45 L193.96,691.63 L194.87,690.88 L195.78,689.94 L196.69,689.54 L197.59,688.78 L198.50,688.03 L199.41,686.86 L200.32,685.98 L201.22,685.36 L202.13,684.52 L203.04,683.89 L203.95,682.91 L204.85,682.19 L205.76,681.20 L206.67,680.92 L207.58,680.35 L208.48,679.85 L209.39,678.58 L210.30,678.15 L211.21,677.08 L212.11,676.19 L213.02,675.00 L213.93,674.02 L214.84,673.63 L215.74,673.23 L216.65,672.82 L217.56,671.47 L218.47,670.03 L219.37,669.22 L220.28,668.40 L221.19,667.55 L222.10,666.44 L223.00,665.64 L223.91,664.62 L224.82,663.37 L225.73,662.73 L226.63,661.72 L227.54,661.24 L228.45,659.72 L229.36,659.11 L230.26,657.67 L231.17,657.13 L232.08,655.36 L232.99,654.74 L233.89,653.17 L234.80,652.45 L235.71,651.42 L236.62,650.52 L237.52,649.78 L238.43,648.32 L239.34,647.08 L240.25,645.82 L241.15,644.94 L242.06,644.44 L242.97,643.30 L243.88,641.91 L244.78,639.88 L245.69,638.79 L246.60,637.77 L247.51,637.02 L248.41,635.90 L249.32,634.23 L250.23,633.06 L251.14,631.52 L252.04,630.87 L252.95,629.37 L253.86,627.63 L254.77,625.54 L255.67,624.28 L256.58,622.94 L257.49,621.80 L258.40,620.25 L259.30,619.18 L260.21,617.98 L261.12,616.19 L262.03,614.47 L262.93,612.53 L263.84,610.99 L264.75,609.19 L265.66,607.34 L266.56,605.95 L267.47,604.37 L268.38,602.70 L269.29,600.72 L270.19,599.27 L271.10,597.39 L272.01,595.55 L272.92,593.15 L273.82,591.68 L274.73,589.23 L275.64,587.13 L276.55,584.86 L277.45,583.22 L278.36,580.98 L279.27,578.60 L280.18,576.27 L281.08,573.94 L281.99,571.86 L282.90,569.88 L283.81,568.33 L284.71,566.23 L285.62,563.94 L286.53,561.70 L287.44,559.56 L288.34,557.02 L289.25,554.41 L290.16,551.63 L291.07,549.68 L291.97,547.30 L292.88,544.97 L293.79,541.55 L294.70,538.86 L295.60,536.49 L296.51,534.71 L297.42,532.62 L298.33,530.31 L299.23,528.65 L300.14,526.85 L301.05,525.18 L301.96,522.99 L302.86,520.71 L303.77,518.86 L304.68,516.81 L305.59,515.63 L306.49,513.82 L307.40,512.19 L308.31,509.99 L309.22,507.77 L310.12,506.43 L311.03,505.13 L311.94,504.07 L312.85,502.62 L313.75,501.37 L314.66,500.81 L315.57,499.84 L316.48,498.78 L317.38,497.44 L318.29,496.94 L319.20,497.10 L320.11,496.74 L321.01,495.85 L321.92,494.86 L322.83,495.06 L323.74,495.31 L324.64,495.45 L325.55,495.27 L326.46,495.50 L327.37,495.89 L328.27,496.47 L329.18,497.43 L330.09,498.41 L331.00,499.83 L331.90,500.84 L332.81,501.94 L333.72,502.93 L334.63,504.80 L335.53,506.34 L336.44,507.92 L337.35,509.24 L338.26,510.72 L339.16,512.17 L340.07,513.55 L340.98,514.92 L341.89,516.92 L342.79,518.38 L343.70,520.51 L344.61,521.93 L345.52,523.90 L346.42,525.49 L347.33,527.16 L348.24,528.46 L349.15,530.14 L350.05,532.00 L350.96,533.77 L351.87,535.37 L352.78,536.97 L353.68,539.02 L354.59,540.66 L355.50,542.02 L356.41,544.08 L357.31,545.72 L358.22,547.36 L359.13,548.65 L360.04,550.79 L360.94,553.04 L361.85,554.78 L362.76,556.11 L363.67,557.57 L364.57,559.15 L365.48,560.73 L366.39,562.69 L367.30,564.43 L368.20,566.16 L369.11,567.54 L370.02,569.49 L370.93,571.05 L371.83,572.55 L372.74,573.63 L373.65,575.28 L374.56,577.03 L375.46,578.66 L376.37,580.40 L377.28,582.09 L378.19,583.77 L379.09,585.79 L380.00,587.19 L380.91,589.36 L381.82,590.37 L382.72,591.88 L383.63,593.31 L384.54,595.27 L385.45,596.58 L386.35,597.96 L387.26,599.10 L388.17,601.06 L389.08,601.83 L389.98,603.24 L390.89,604.66 L391.80,606.54 L392.71,607.50 L393.61,608.60 L394.52,610.16 L395.43,612.01 L396.34,613.65 L397.24,614.76 L398.15,616.12 L399.06,617.44 L399.97,618.90 L400.87,620.01 L401.78,620.94 L402.69,622.09 L403.60,623.42 L404.50,624.85 L405.41,626.09 L406.32,627.42 L407.23,628.80 L408.13,629.87 L409.04,630.81 L409.95,631.86 L410.86,632.72 L411.76,634.32 L412.67,635.28 L413.58,636.42 L414.49,637.31 L415.39,638.42 L416.30,639.48 L417.21,640.22 L418.12,641.29 L419.02,642.38 L419.93,643.83 L420.84,644.78 L421.75,646.15 L422.65,646.72 L423.56,647.88 L424.47,648.42 L425.38,649.93 L426.28,650.76 L427.19,651.62 L428.10,652.47 L429.01,654.14 L429.91,655.64 L430.82,656.77 L431.73,657.32 L432.64,658.72 L433.54,659.56 L434.45,660.60 L435.36,661.37 L436.27,662.15 L437.17,663.20 L438.08,663.91 L438.99,665.48 L439.90,666.03 L440.80,667.52 L441.71,668.06 L442.62,669.23 L443.53,670.13 L444.44,671.21 L445.34,672.67 L446.25,673.31 L447.16,674.64 L448.07,675.50 L448.97,676.65 L449.88,677.39 L450.79,678.53 L451.70,679.86 L452.60,681.00 L453.51,681.78 L454.42,683.00 L455.33,684.22 L456.23,685.69 L457.14,686.62 L458.05,687.90 L458.96,688.35 L459.86,689.60 L460.77,690.89 L461.68,692.74 L462.59,693.44 L463.49,694.04 L464.40,695.20 L465.31,696.72 L466.22,698.17 L467.12,699.19 L468.03,700.01 L468.94,701.05 L469.85,701.69 L470.75,703.11 L471.66,704.35 L472.57,705.43 L473.48,706.12 L474.38,707.01 L475.29,707.87 L476.20,708.88 L477.11,710.14 L478.01,711.74 L478.92,713.11 L479.83,713.78 L480.74,714.51 L481.64,715.49 L482.55,716.52 L483.46,717.56 L484.37,717.91 L485.27,718.77 L486.18,720.00 L487.09,721.09 L488.00,721.69 L488.90,722.14 L489.81,722.86 L490.72,723.83 L491.63,724.87 L492.53,725.89 L493.44,726.66 L494.35,727.17 L495.26,727.60 L496.16,728.17 L497.07,728.66 L497.98,729.28 L498.89,729.52 L499.79,729.92 L500.70,730.41 L501.61,731.30 L502.52,731.31 L503.42,731.68 L504.33,732.03 L505.24,732.34 L506.15,732.61" stroke="#22e0e0" stroke-width="4.2"/>
<path d="M53.30,736.96 L54.22,736.91 L55.14,736.86 L56.05,736.80 L56.97,736.75 L57.89,736.73 L58.81,736.70 L59.73,736.66 L60.65,736.61 L61.56,736.60 L62.48,736.43 L63.40,736.38 L64.32,736.32 L65.24,736.29 L66.16,736.28 L67.07,736.33 L67.99,736.34 L68.91,736.21 L69.83,736.00 L70.75,736.00 L71.66,735.91 L72.58,735.77 L73.50,735.59 L74.42,735.55 L75.34,735.54 L76.26,735.47 L77.17,735.42 L78.09,735.41 L79.01,735.24 L79.93,735.09 L80.85,734.99 L81.77,735.00 L82.68,734.90 L83.60,734.84 L84.52,734.94 L85.44,734.92 L86.36,734.64 L87.27,734.41 L88.19,734.23 L89.11,734.30 L90.03,734.12 L90.95,733.97 L91.87,733.87 L92.78,733.83 L93.70,733.80 L94.62,733.76 L95.54,733.59 L96.46,733.51 L97.38,733.31 L98.29,733.11 L99.21,733.00 L100.13,732.86 L101.05,732.91 L101.97,732.76 L102.88,732.70 L103.80,732.44 L104.72,732.37 L105.64,732.13 L106.56,731.94 L107.48,731.66 L108.39,731.59 L109.31,731.58 L110.23,731.43 L111.15,731.18 L112.07,730.89 L112.99,730.70 L113.90,730.63 L114.82,730.52 L115.74,730.37 L116.66,730.11 L117.58,729.89 L118.49,729.69 L119.41,729.43 L120.33,729.27 L121.25,729.04 L122.17,728.79 L123.09,728.48 L124.00,728.25 L124.92,728.17 L125.84,728.06 L126.76,727.89 L127.68,727.63 L128.60,727.34 L129.51,727.01 L130.43,726.60 L131.35,726.34 L132.27,726.15 L133.19,726.08 L134.10,725.74 L135.02,725.41 L135.94,725.12 L136.86,724.84 L137.78,724.64 L138.70,724.23 L139.61,723.89 L140.53,723.50 L141.45,723.14 L142.37,722.93 L143.29,722.60 L144.21,722.39 L145.12,722.04 L146.04,721.84 L146.96,721.47 L147.88,721.08 L148.80,720.66 L149.71,720.28 L150.63,719.98 L151.55,719.69 L152.47,719.23 L153.39,718.77 L154.31,718.39 L155.22,718.07 L156.14,717.74 L157.06,717.13 L157.98,716.94 L158.90,716.43 L159.82,716.03 L160.73,715.46 L161.65,715.19 L162.57,714.96 L163.49,714.56 L164.41,714.18 L165.32,713.56 L166.24,713.10 L167.16,712.53 L168.08,712.11 L169.00,711.40 L169.92,710.79 L170.83,710.12 L171.75,709.67 L172.67,709.17 L173.59,708.92 L174.51,708.54 L175.43,708.15 L176.34,707.40 L177.26,706.90 L178.18,706.25 L179.10,705.67 L180.02,704.98 L180.93,704.40 L181.85,703.96 L182.77,703.48 L183.69,702.83 L184.61,702.19 L185.53,701.60 L186.44,701.13 L187.36,700.48 L188.28,699.84 L189.20,699.20 L190.12,698.56 L191.04,697.68 L191.95,696.77 L192.87,695.93 L193.79,695.46 L194.71,694.87 L195.63,694.36 L196.54,693.37 L197.46,692.39 L198.38,691.89 L199.30,691.39 L200.22,691.10 L201.14,689.96 L202.05,689.32 L202.97,688.56 L203.89,688.11 L204.81,687.29 L205.73,686.31 L206.65,685.52 L207.56,684.46 L208.48,683.99 L209.40,682.73 L210.32,681.90 L211.24,680.89 L212.15,680.45 L213.07,679.48 L213.99,678.40 L214.91,677.35 L215.83,676.68 L216.75,675.74 L217.66,674.92 L218.58,673.81 L219.50,673.03 L220.42,672.35 L221.34,671.60 L222.26,670.09 L223.17,668.38 L224.09,667.33 L225.01,666.99 L225.93,666.18 L226.85,665.09 L227.76,663.97 L228.68,663.09 L229.60,662.25 L230.52,660.99 L231.44,660.03 L232.36,659.40 L233.27,658.31 L234.19,657.28 L235.11,655.68 L236.03,654.72 L236.95,653.28 L237.87,652.14 L238.78,650.93 L239.70,650.28 L240.62,648.98 L241.54,647.68 L242.46,646.54 L243.37,645.44 L244.29,644.62 L245.21,643.08 L246.13,641.88 L247.05,640.38 L247.97,639.03 L248.88,637.86 L249.80,636.93 L250.72,635.43 L251.64,633.87 L252.56,632.40 L253.48,631.20 L254.39,630.32 L255.31,628.81 L256.23,627.63 L257.15,625.69 L258.07,624.21 L258.98,622.43 L259.90,621.41 L260.82,619.89 L261.74,618.41 L262.66,616.35 L263.58,614.45 L264.49,613.04 L265.41,611.30 L266.33,609.83 L267.25,607.27 L268.17,605.48 L269.09,603.65 L270.00,602.06 L270.92,600.62 L271.84,598.04 L272.76,596.72 L273.68,594.21 L274.59,592.30 L275.51,589.43 L276.43,587.70 L277.35,585.80 L278.27,583.84 L279.19,581.56 L280.10,579.31 L281.02,577.29 L281.94,574.53 L282.86,571.85 L283.78,569.31 L284.70,567.20 L285.61,564.93 L286.53,562.40 L287.45,559.93 L288.37,557.71 L289.29,555.63 L290.21,553.44 L291.12,550.82 L292.04,548.27 L292.96,545.67 L293.88,543.54 L294.80,540.74 L295.71,538.45 L296.63,535.81 L297.55,533.97 L298.47,531.79 L299.39,529.98 L300.31,527.48 L301.22,524.80 L302.14,522.69 L303.06,520.85 L303.98,519.54 L304.90,517.56 L305.82,515.53 L306.73,513.65 L307.65,511.91 L308.57,510.19 L309.49,508.33 L310.41,506.39 L311.32,504.93 L312.24,503.70 L313.16,502.53 L314.08,501.40 L315.00,500.23 L315.92,499.05 L316.83,498.24 L317.75,497.12 L318.67,497.05 L319.59,495.83 L320.51,495.18 L321.43,494.21 L322.34,494.30 L323.26,494.53 L324.18,494.97 L325.10,495.09 L326.02,495.33 L326.93,495.89 L327.85,496.88 L328.77,497.60 L329.69,498.05 L330.61,499.24 L331.53,500.66 L332.44,502.18 L333.36,503.23 L334.28,504.00 L335.20,505.10 L336.12,506.59 L337.04,508.12 L337.95,509.80 L338.87,511.08 L339.79,512.82 L340.71,514.28 L341.63,516.21 L342.54,517.65 L343.46,519.62 L344.38,521.08 L345.30,523.14 L346.22,524.60 L347.14,526.53 L348.05,527.86 L348.97,529.17 L349.89,530.68 L350.81,532.74 L351.73,534.83 L352.65,536.16 L353.56,537.93 L354.48,539.91 L355.40,541.75 L356.32,543.28 L357.24,544.76 L358.15,546.59 L359.07,548.02 L359.99,549.69 L360.91,551.39 L361.83,552.89 L362.75,554.28 L363.66,556.18 L364.58,557.93 L365.50,559.96 L366.42,561.29 L367.34,563.62 L368.26,564.67 L369.17,566.69 L370.09,567.74 L371.01,569.66 L371.93,571.20 L372.85,573.28 L373.76,575.03 L374.68,576.27 L375.60,577.59 L376.52,579.17 L377.44,580.71 L378.36,582.77 L379.27,584.48 L380.19,586.24 L381.11,587.22 L382.03,588.80 L382.95,590.04 L383.87,592.15 L384.78,593.29 L385.70,595.27 L386.62,596.04 L387.54,597.84 L388.46,599.38 L389.37,600.90 L390.29,602.27 L391.21,603.33 L392.13,604.61 L393.05,605.76 L393.97,606.58 L394.88,608.05 L395.80,609.66 L396.72,611.31 L397.64,612.03 L398.56,613.02 L399.48,614.10 L400.39,615.85 L401.31,617.03 L402.23,618.25 L403.15,619.20 L404.07,620.28 L404.98,621.68 L405.90,622.70 L406.82,623.91 L407.74,624.65 L408.66,625.91 L409.58,626.72 L410.49,627.55 L411.41,629.06 L412.33,630.76 L413.25,632.33 L414.17,633.52 L415.09,633.77 L416.00,634.93 L416.92,635.20 L417.84,636.43 L418.76,637.36 L419.68,638.82 L420.59,640.03 L421.51,640.81 L422.43,641.83 L423.35,642.63 L424.27,644.23 L425.19,645.11 L426.10,646.68 L427.02,647.60 L427.94,649.10 L428.86,649.32 L429.78,649.92 L430.70,650.62 L431.61,652.17 L432.53,653.71 L433.45,654.46 L434.37,655.28 L435.29,655.71 L436.20,656.92 L437.12,658.08 L438.04,659.43 L438.96,659.96 L439.88,660.57 L440.80,661.55 L441.71,662.94 L442.63,664.11 L443.55,664.73 L444.47,665.73 L445.39,666.89 L446.31,668.22 L447.22,668.85 L448.14,669.68 L449.06,670.88 L449.98,672.13 L450.90,673.64 L451.81,674.49 L452.73,675.58 L453.65,676.33 L454.57,677.13 L455.49,678.51 L456.41,679.80 L457.32,681.45 L458.24,682.83 L459.16,684.18 L460.08,685.47 L461.00,686.58 L461.92,687.17 L462.83,688.08 L463.75,688.70 L464.67,689.90 L465.59,691.09 L466.51,692.22 L467.42,693.34 L468.34,694.46 L469.26,696.26 L470.18,698.09 L471.10,699.28 L472.02,700.27 L472.93,701.45 L473.85,702.71 L474.77,703.99 L475.69,704.91 L476.61,706.30 L477.53,707.07 L478.44,708.33 L479.36,708.76 L480.28,709.92 L481.20,710.85 L482.12,712.00 L483.03,713.28 L483.95,714.26 L484.87,715.61 L485.79,716.72 L486.71,717.76 L487.63,718.65 L488.54,719.98 L489.46,720.90 L490.38,722.15 L491.30,722.49 L492.22,723.33 L493.14,723.76 L494.05,724.62 L494.97,725.33 L495.89,726.61 L496.81,727.36 L497.73,728.33 L498.64,729.11 L499.56,729.84 L500.48,730.80 L501.40,731.02 L502.32,732.13 L503.24,732.49 L504.15,733.05 L505.07,732.75 L505.99,732.68 L506.91,732.96 L507.83,734.24 L508.75,734.60 L509.66,734.92 L510.58,735.20 L511.50,735.44" stroke="#1212d8" stroke-width="4.0"/>
</g>
<!-- frames -->
<rect x="58.0" y="12.6" width="452.3" height="350.8" stroke="#000" stroke-width="2.6"/>
<path d="M148.7,363.4v-11M148.7,12.6v11M329.5,363.4v-11M329.5,12.6v11M239.1,363.4v-6M239.1,12.6v6M419.9,363.4v-6M419.9,12.6v6M58.0,246.5h11M510.3,246.5h-11M58.0,129.5h11M510.3,129.5h-11M58.0,305.0h6M510.3,305.0h-6M58.0,188.0h6M510.3,188.0h-6M58.0,71.0h6M510.3,71.0h-6" stroke="#000" stroke-width="2.6"/>
<rect x="53.3" y="416.7" width="459.6" height="320.8" stroke="#000" stroke-width="2.6"/>
<path d="M143.5,737.5v-10M143.5,416.7v10M235.9,737.5v-10M235.9,416.7v10M328.3,737.5v-10M328.3,416.7v10M420.7,737.5v-10M420.7,416.7v10M97.3,737.5v-5.5M97.3,416.7v5.5M189.7,737.5v-5.5M189.7,416.7v5.5M282.1,737.5v-5.5M282.1,416.7v5.5M374.5,737.5v-5.5M374.5,416.7v5.5M466.9,737.5v-5.5M466.9,416.7v5.5M53.3,630.6h10M512.9,630.6h-10M53.3,523.6h10M512.9,523.6h-10M53.3,684.0h5.5M512.9,684.0h-5.5M53.3,577.1h5.5M512.9,577.1h-5.5M53.3,470.2h5.5M512.9,470.2h-5.5" stroke="#000" stroke-width="2.6"/>
</g>
<g font-family="Liberation Serif, 'Times New Roman', serif" fill="#000">
<!-- A tick labels -->
<g font-size="31" text-anchor="middle">
<text x="148.7" y="389.5">0</text>
<text x="329.5" y="389.5">0.5</text>
<text x="511.8" y="389.5">1</text>
</g>
<g font-size="31" text-anchor="end">
<text x="54" y="374.0">0</text>
<text x="54" y="257.0">1</text>
<text x="54" y="140.0">2</text>
<text x="54" y="23.0">3</text>
</g>
<text x="271.5" y="38" font-size="35" letter-spacing="0.8">(a)</text>
<text transform="translate(22.2,223.4) rotate(-90)" font-size="30">P(q<tspan font-size="20" dy="11.5">tet</tspan><tspan dy="-11.5">)</tspan></text>
<line x1="113" y1="71" x2="136.6" y2="71" stroke="#e8482a" stroke-width="3"/>
<text x="146" y="84.6" font-size="28">Li<tspan font-size="20" dy="-13">+</tspan></text>
<line x1="113" y1="117.7" x2="136.6" y2="117.7" stroke="#b0103a" stroke-width="3"/>
<text x="146" y="131.3" font-size="28">Na<tspan font-size="20" dy="-13">+</tspan></text>
<line x1="113" y1="165.4" x2="136.6" y2="165.4" stroke="#18e018" stroke-width="3"/>
<text x="146" y="179.0" font-size="28">K<tspan font-size="20" dy="-13">+</tspan></text>
<line x1="113" y1="212.7" x2="136.6" y2="212.7" stroke="#2cd8b8" stroke-width="3"/>
<text x="146" y="226.3" font-size="28">Rb<tspan font-size="20" dy="-13">+</tspan></text>
<line x1="113" y1="260.2" x2="136.6" y2="260.2" stroke="#1212d8" stroke-width="3"/>
<text x="146" y="273.8" font-size="28">Cs<tspan font-size="20" dy="-13">+</tspan></text>
<!-- B tick labels -->
<g font-size="26" text-anchor="middle">
<text x="143.5" y="760.3">0</text>
<text x="235.9" y="760.3">0.25</text>
<text x="328.3" y="760.3">0.5</text>
<text x="420.7" y="760.3">0.75</text>
<text x="514.1" y="760.3">1</text>
</g>
<g font-size="26" text-anchor="end">
<text x="50" y="746.5">0</text>
<text x="50" y="639.6">1</text>
<text x="50" y="532.6">2</text>
<text x="50" y="425.7">3</text>
</g>
<text x="265" y="452.5" font-size="35">(b)</text>
<text transform="translate(21.6,608.4) rotate(-90)" font-size="26">P(q<tspan font-size="18" dy="10.2">tet</tspan><tspan dy="-10.2">)</tspan></text>
<text x="267" y="776.6" font-size="26">q<tspan font-size="18" dy="9">tet</tspan></text>
<line x1="416" y1="456.3" x2="437.4" y2="456.3" stroke="#e8482a" stroke-width="3"/>
<text x="446" y="468.9" font-size="26">Li<tspan font-size="18" dy="-12">+</tspan></text>
<line x1="416" y1="499.6" x2="437.4" y2="499.6" stroke="#b0103a" stroke-width="3"/>
<text x="446" y="512.2" font-size="26">Na<tspan font-size="18" dy="-12">+</tspan></text>
<line x1="416" y1="542.3" x2="437.4" y2="542.3" stroke="#18e018" stroke-width="3"/>
<text x="446" y="554.9" font-size="26">K<tspan font-size="18" dy="-12">+</tspan></text>
<line x1="416" y1="585.9" x2="437.4" y2="585.9" stroke="#22e0e0" stroke-width="3"/>
<text x="446" y="598.5" font-size="26">Rb<tspan font-size="18" dy="-12">+</tspan></text>
<line x1="416" y1="629.4" x2="437.4" y2="629.4" stroke="#1212d8" stroke-width="3"/>
<text x="446" y="642.0" font-size="26">Cs<tspan font-size="18" dy="-12">+</tspan></text>
</g>
</svg></div>
</body></html>
